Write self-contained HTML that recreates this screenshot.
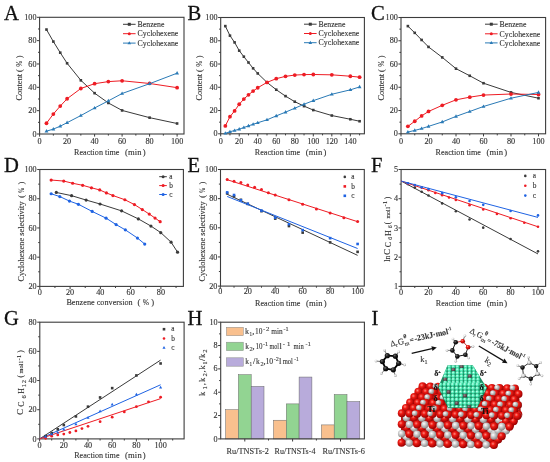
<!DOCTYPE html>
<html><head><meta charset="utf-8"><style>
html,body{margin:0;padding:0;background:#fff;overflow:hidden;width:550px;height:462px;}
svg{display:block;filter:blur(0.35px);}
text{font-family:"Liberation Serif",serif;fill:#333;stroke:#333;stroke-width:0.12px;}
</style></head><body>
<svg width="550" height="462" viewBox="0 0 550 462">
<rect width="550" height="462" fill="#fff"/>
<text x="3.9" y="19.9" font-size="20.6" style="stroke-width:0.3px;fill:#111;stroke:#111">A</text>
<text x="187.6" y="19.9" font-size="20.6" style="stroke-width:0.3px;fill:#111;stroke:#111">B</text>
<text x="371" y="19.9" font-size="20.6" style="stroke-width:0.3px;fill:#111;stroke:#111">C</text>
<text x="3.9" y="172.2" font-size="20.6" style="stroke-width:0.3px;fill:#111;stroke:#111">D</text>
<text x="187.6" y="172.2" font-size="20.6" style="stroke-width:0.3px;fill:#111;stroke:#111">E</text>
<text x="371" y="172.2" font-size="20.6" style="stroke-width:0.3px;fill:#111;stroke:#111">F</text>
<text x="3.9" y="325" font-size="20.6" style="stroke-width:0.3px;fill:#111;stroke:#111">G</text>
<text x="187.5" y="324.5" font-size="20.6" style="stroke-width:0.3px;fill:#111;stroke:#111">H</text>
<text x="371.5" y="324.7" font-size="20.6" style="stroke-width:0.3px;fill:#111;stroke:#111">I</text>
<path d="M39.6 134v2.6M67.1 134v2.6M94.6 134v2.6M122.1 134v2.6M149.6 134v2.6M177.1 134v2.6M53.35 134v1.6M80.85 134v1.6M108.35 134v1.6M135.85 134v1.6M163.35 134v1.6M39.6 134h-2.6M39.6 110.66h-2.6M39.6 87.32h-2.6M39.6 63.98h-2.6M39.6 40.64h-2.6M39.6 17.3h-2.6M39.6 122.33h-1.6M39.6 98.99h-1.6M39.6 75.65h-1.6M39.6 52.31h-1.6M39.6 28.97h-1.6" stroke="#3c3c3c" stroke-width="1" fill="none"/>
<rect x="39.6" y="17.3" width="144.4" height="116.7" fill="none" stroke="#3c3c3c" stroke-width="1.1"/>
<text x="39.6" y="143.9" text-anchor="middle" font-size="7.4" textLength="4.1" lengthAdjust="spacingAndGlyphs">0</text>
<text x="67.1" y="143.9" text-anchor="middle" font-size="7.4" textLength="8.2" lengthAdjust="spacingAndGlyphs">20</text>
<text x="94.6" y="143.9" text-anchor="middle" font-size="7.4" textLength="8.2" lengthAdjust="spacingAndGlyphs">40</text>
<text x="122.1" y="143.9" text-anchor="middle" font-size="7.4" textLength="8.2" lengthAdjust="spacingAndGlyphs">60</text>
<text x="149.6" y="143.9" text-anchor="middle" font-size="7.4" textLength="8.2" lengthAdjust="spacingAndGlyphs">80</text>
<text x="177.1" y="143.9" text-anchor="middle" font-size="7.4" textLength="12.3" lengthAdjust="spacingAndGlyphs">100</text>
<text x="36.5" y="136.6" text-anchor="end" font-size="7.4" textLength="4.1" lengthAdjust="spacingAndGlyphs">0</text>
<text x="36.5" y="113.26" text-anchor="end" font-size="7.4" textLength="8.2" lengthAdjust="spacingAndGlyphs">20</text>
<text x="36.5" y="89.92" text-anchor="end" font-size="7.4" textLength="8.2" lengthAdjust="spacingAndGlyphs">40</text>
<text x="36.5" y="66.58" text-anchor="end" font-size="7.4" textLength="8.2" lengthAdjust="spacingAndGlyphs">60</text>
<text x="36.5" y="43.24" text-anchor="end" font-size="7.4" textLength="8.2" lengthAdjust="spacingAndGlyphs">80</text>
<text x="36.5" y="19.9" text-anchor="end" font-size="7.4" textLength="12.3" lengthAdjust="spacingAndGlyphs">100</text>
<polyline points="46.48,29.55 53.35,41.57 60.23,52.66 67.1,63.28 80.85,80.32 94.6,93.16 108.35,102.96 122.1,110.43 149.6,117.66 177.1,123.5" fill="none" stroke="#3a3a3a" stroke-width="1.0" stroke-linejoin="round"/>
<rect x="45.18" y="28.25" width="2.6" height="2.6" fill="#3a3a3a"/>
<rect x="52.05" y="40.27" width="2.6" height="2.6" fill="#3a3a3a"/>
<rect x="58.93" y="51.36" width="2.6" height="2.6" fill="#3a3a3a"/>
<rect x="65.8" y="61.98" width="2.6" height="2.6" fill="#3a3a3a"/>
<rect x="79.55" y="79.02" width="2.6" height="2.6" fill="#3a3a3a"/>
<rect x="93.3" y="91.86" width="2.6" height="2.6" fill="#3a3a3a"/>
<rect x="107.05" y="101.66" width="2.6" height="2.6" fill="#3a3a3a"/>
<rect x="120.8" y="109.13" width="2.6" height="2.6" fill="#3a3a3a"/>
<rect x="148.3" y="116.36" width="2.6" height="2.6" fill="#3a3a3a"/>
<rect x="175.8" y="122.2" width="2.6" height="2.6" fill="#3a3a3a"/>
<polyline points="46.48,123.26 53.35,114.04 60.23,106.11 67.1,98.76 80.85,88.49 94.6,83.7 108.35,81.6 122.1,80.78 149.6,83.47 177.1,87.67" fill="none" stroke="#ee1c24" stroke-width="1.0" stroke-linejoin="round"/>
<circle cx="46.48" cy="123.26" r="1.9" fill="#ee1c24"/>
<circle cx="53.35" cy="114.04" r="1.9" fill="#ee1c24"/>
<circle cx="60.23" cy="106.11" r="1.9" fill="#ee1c24"/>
<circle cx="67.1" cy="98.76" r="1.9" fill="#ee1c24"/>
<circle cx="80.85" cy="88.49" r="1.9" fill="#ee1c24"/>
<circle cx="94.6" cy="83.7" r="1.9" fill="#ee1c24"/>
<circle cx="108.35" cy="81.6" r="1.9" fill="#ee1c24"/>
<circle cx="122.1" cy="80.78" r="1.9" fill="#ee1c24"/>
<circle cx="149.6" cy="83.47" r="1.9" fill="#ee1c24"/>
<circle cx="177.1" cy="87.67" r="1.9" fill="#ee1c24"/>
<polyline points="46.48,131.2 53.35,129.1 60.23,126.18 67.1,122.68 80.85,115.56 94.6,107.98 108.35,100.86 122.1,93.51 149.6,83.7 177.1,73.2" fill="none" stroke="#2a7ab6" stroke-width="1.0" stroke-linejoin="round"/>
<path d="M46.48 129.12L48.4 132.48L44.55 132.48Z" fill="#2a7ab6"/>
<path d="M53.35 127.02L55.27 130.38L51.43 130.38Z" fill="#2a7ab6"/>
<path d="M60.23 124.1L62.15 127.46L58.3 127.46Z" fill="#2a7ab6"/>
<path d="M67.1 120.6L69.02 123.96L65.18 123.96Z" fill="#2a7ab6"/>
<path d="M80.85 113.48L82.77 116.84L78.93 116.84Z" fill="#2a7ab6"/>
<path d="M94.6 105.9L96.52 109.26L92.68 109.26Z" fill="#2a7ab6"/>
<path d="M108.35 98.78L110.27 102.14L106.43 102.14Z" fill="#2a7ab6"/>
<path d="M122.1 91.43L124.02 94.79L120.18 94.79Z" fill="#2a7ab6"/>
<path d="M149.6 81.62L151.52 84.98L147.68 84.98Z" fill="#2a7ab6"/>
<path d="M177.1 71.12L179.02 74.48L175.18 74.48Z" fill="#2a7ab6"/>
<path d="M123 24.3h12.6" stroke="#3a3a3a" stroke-width="1"/>
<rect x="127.8" y="22.8" width="3" height="3" fill="#3a3a3a"/>
<text x="137.6" y="27" text-anchor="start" font-size="7.8">Benzene</text>
<path d="M123 33.7h12.6" stroke="#ee1c24" stroke-width="1"/>
<circle cx="129.3" cy="33.7" r="1.5" fill="#ee1c24"/>
<text x="137.6" y="36.4" text-anchor="start" font-size="7.8">Cyclohexene</text>
<path d="M123 43.1h12.6" stroke="#2a7ab6" stroke-width="1"/>
<path d="M129.3 41.15L131.1 44.3L127.5 44.3Z" fill="#2a7ab6"/>
<text x="137.6" y="45.8" text-anchor="start" font-size="7.8">Cyclohexane</text>
<g transform="translate(74.1 155.3)"><text x="0" y="0" font-size="8.6" textLength="45.3" lengthAdjust="spacingAndGlyphs">Reaction time</text><text x="52.3" y="0" text-anchor="middle" font-size="8.6">(</text><text x="53.8" y="0" font-size="8.6" textLength="13.7" lengthAdjust="spacing">min</text><text x="70" y="0" text-anchor="middle" font-size="8.6">)</text></g>
<g transform="translate(21.7 100.6) rotate(-90)"><text x="0" y="0" font-size="8.6" textLength="26.8" lengthAdjust="spacingAndGlyphs">Content</text><text x="30.1" y="0" text-anchor="middle" font-size="8.6">(</text><text x="33.9" y="0" font-size="8.6" textLength="6" lengthAdjust="spacingAndGlyphs">%</text><text x="43.8" y="0" text-anchor="middle" font-size="8.6">)</text></g>
<path d="M220.7 133.8v2.6M239.22 133.8v2.6M257.74 133.8v2.6M276.26 133.8v2.6M294.78 133.8v2.6M313.3 133.8v2.6M331.82 133.8v2.6M350.34 133.8v2.6M229.96 133.8v1.6M248.48 133.8v1.6M267 133.8v1.6M285.52 133.8v1.6M304.04 133.8v1.6M322.56 133.8v1.6M341.08 133.8v1.6M359.6 133.8v1.6M220.7 133.8h-2.6M220.7 110.54h-2.6M220.7 87.28h-2.6M220.7 64.02h-2.6M220.7 40.76h-2.6M220.7 17.5h-2.6M220.7 122.17h-1.6M220.7 98.91h-1.6M220.7 75.65h-1.6M220.7 52.39h-1.6M220.7 29.13h-1.6" stroke="#3c3c3c" stroke-width="1" fill="none"/>
<rect x="220.7" y="17.5" width="143.7" height="116.3" fill="none" stroke="#3c3c3c" stroke-width="1.1"/>
<text x="220.7" y="143.7" text-anchor="middle" font-size="7.4" textLength="4.1" lengthAdjust="spacingAndGlyphs">0</text>
<text x="239.22" y="143.7" text-anchor="middle" font-size="7.4" textLength="8.2" lengthAdjust="spacingAndGlyphs">20</text>
<text x="257.74" y="143.7" text-anchor="middle" font-size="7.4" textLength="8.2" lengthAdjust="spacingAndGlyphs">40</text>
<text x="276.26" y="143.7" text-anchor="middle" font-size="7.4" textLength="8.2" lengthAdjust="spacingAndGlyphs">60</text>
<text x="294.78" y="143.7" text-anchor="middle" font-size="7.4" textLength="8.2" lengthAdjust="spacingAndGlyphs">80</text>
<text x="313.3" y="143.7" text-anchor="middle" font-size="7.4" textLength="12.3" lengthAdjust="spacingAndGlyphs">100</text>
<text x="331.82" y="143.7" text-anchor="middle" font-size="7.4" textLength="12.3" lengthAdjust="spacingAndGlyphs">120</text>
<text x="350.34" y="143.7" text-anchor="middle" font-size="7.4" textLength="12.3" lengthAdjust="spacingAndGlyphs">140</text>
<text x="217.6" y="136.4" text-anchor="end" font-size="7.4" textLength="4.1" lengthAdjust="spacingAndGlyphs">0</text>
<text x="217.6" y="113.14" text-anchor="end" font-size="7.4" textLength="8.2" lengthAdjust="spacingAndGlyphs">20</text>
<text x="217.6" y="89.88" text-anchor="end" font-size="7.4" textLength="8.2" lengthAdjust="spacingAndGlyphs">40</text>
<text x="217.6" y="66.62" text-anchor="end" font-size="7.4" textLength="8.2" lengthAdjust="spacingAndGlyphs">60</text>
<text x="217.6" y="43.36" text-anchor="end" font-size="7.4" textLength="8.2" lengthAdjust="spacingAndGlyphs">80</text>
<text x="217.6" y="20.1" text-anchor="end" font-size="7.4" textLength="12.3" lengthAdjust="spacingAndGlyphs">100</text>
<polyline points="225.33,26.11 229.96,35.64 234.59,42.39 239.22,50.65 243.85,56.69 248.48,62.51 253.11,68.32 257.74,73.44 267,82.4 276.26,89.72 285.52,96.12 294.78,101.7 304.04,106.12 313.3,110.07 331.82,115.54 350.34,119.26 359.6,121.24" fill="none" stroke="#3a3a3a" stroke-width="1.0" stroke-linejoin="round"/>
<rect x="224.03" y="24.81" width="2.6" height="2.6" fill="#3a3a3a"/>
<rect x="228.66" y="34.34" width="2.6" height="2.6" fill="#3a3a3a"/>
<rect x="233.29" y="41.09" width="2.6" height="2.6" fill="#3a3a3a"/>
<rect x="237.92" y="49.35" width="2.6" height="2.6" fill="#3a3a3a"/>
<rect x="242.55" y="55.39" width="2.6" height="2.6" fill="#3a3a3a"/>
<rect x="247.18" y="61.21" width="2.6" height="2.6" fill="#3a3a3a"/>
<rect x="251.81" y="67.02" width="2.6" height="2.6" fill="#3a3a3a"/>
<rect x="256.44" y="72.14" width="2.6" height="2.6" fill="#3a3a3a"/>
<rect x="265.7" y="81.1" width="2.6" height="2.6" fill="#3a3a3a"/>
<rect x="274.96" y="88.42" width="2.6" height="2.6" fill="#3a3a3a"/>
<rect x="284.22" y="94.82" width="2.6" height="2.6" fill="#3a3a3a"/>
<rect x="293.48" y="100.4" width="2.6" height="2.6" fill="#3a3a3a"/>
<rect x="302.74" y="104.82" width="2.6" height="2.6" fill="#3a3a3a"/>
<rect x="312" y="108.77" width="2.6" height="2.6" fill="#3a3a3a"/>
<rect x="330.52" y="114.24" width="2.6" height="2.6" fill="#3a3a3a"/>
<rect x="349.04" y="117.96" width="2.6" height="2.6" fill="#3a3a3a"/>
<rect x="358.3" y="119.94" width="2.6" height="2.6" fill="#3a3a3a"/>
<polyline points="225.33,125.89 229.96,116.7 234.59,110.89 239.22,104.26 243.85,99.03 248.48,94.84 253.11,91.12 257.74,87.75 267,82.4 276.26,78.67 285.52,76.35 294.78,75.07 304.04,74.6 313.3,74.49 331.82,74.84 350.34,76.23 359.6,77.16" fill="none" stroke="#ee1c24" stroke-width="1.0" stroke-linejoin="round"/>
<circle cx="225.33" cy="125.89" r="1.9" fill="#ee1c24"/>
<circle cx="229.96" cy="116.7" r="1.9" fill="#ee1c24"/>
<circle cx="234.59" cy="110.89" r="1.9" fill="#ee1c24"/>
<circle cx="239.22" cy="104.26" r="1.9" fill="#ee1c24"/>
<circle cx="243.85" cy="99.03" r="1.9" fill="#ee1c24"/>
<circle cx="248.48" cy="94.84" r="1.9" fill="#ee1c24"/>
<circle cx="253.11" cy="91.12" r="1.9" fill="#ee1c24"/>
<circle cx="257.74" cy="87.75" r="1.9" fill="#ee1c24"/>
<circle cx="267" cy="82.4" r="1.9" fill="#ee1c24"/>
<circle cx="276.26" cy="78.67" r="1.9" fill="#ee1c24"/>
<circle cx="285.52" cy="76.35" r="1.9" fill="#ee1c24"/>
<circle cx="294.78" cy="75.07" r="1.9" fill="#ee1c24"/>
<circle cx="304.04" cy="74.6" r="1.9" fill="#ee1c24"/>
<circle cx="313.3" cy="74.49" r="1.9" fill="#ee1c24"/>
<circle cx="331.82" cy="74.84" r="1.9" fill="#ee1c24"/>
<circle cx="350.34" cy="76.23" r="1.9" fill="#ee1c24"/>
<circle cx="359.6" cy="77.16" r="1.9" fill="#ee1c24"/>
<polyline points="225.33,133.33 229.96,131.71 234.59,130.54 239.22,129.15 243.85,127.52 248.48,125.89 253.11,124.26 257.74,122.75 267,119.84 276.26,115.89 285.52,112.17 294.78,108.21 304.04,104.26 313.3,100.65 331.82,94.26 350.34,89.84 359.6,86.93" fill="none" stroke="#2a7ab6" stroke-width="1.0" stroke-linejoin="round"/>
<path d="M225.33 131.25L227.25 134.61L223.41 134.61Z" fill="#2a7ab6"/>
<path d="M229.96 129.63L231.88 132.99L228.04 132.99Z" fill="#2a7ab6"/>
<path d="M234.59 128.46L236.51 131.82L232.67 131.82Z" fill="#2a7ab6"/>
<path d="M239.22 127.07L241.14 130.43L237.3 130.43Z" fill="#2a7ab6"/>
<path d="M243.85 125.44L245.77 128.8L241.93 128.8Z" fill="#2a7ab6"/>
<path d="M248.48 123.81L250.4 127.17L246.56 127.17Z" fill="#2a7ab6"/>
<path d="M253.11 122.18L255.03 125.54L251.19 125.54Z" fill="#2a7ab6"/>
<path d="M257.74 120.67L259.66 124.03L255.82 124.03Z" fill="#2a7ab6"/>
<path d="M267 117.76L268.92 121.12L265.08 121.12Z" fill="#2a7ab6"/>
<path d="M276.26 113.81L278.18 117.17L274.34 117.17Z" fill="#2a7ab6"/>
<path d="M285.52 110.09L287.44 113.45L283.6 113.45Z" fill="#2a7ab6"/>
<path d="M294.78 106.13L296.7 109.49L292.86 109.49Z" fill="#2a7ab6"/>
<path d="M304.04 102.18L305.96 105.54L302.12 105.54Z" fill="#2a7ab6"/>
<path d="M313.3 98.57L315.22 101.93L311.38 101.93Z" fill="#2a7ab6"/>
<path d="M331.82 92.18L333.74 95.54L329.9 95.54Z" fill="#2a7ab6"/>
<path d="M350.34 87.76L352.26 91.12L348.42 91.12Z" fill="#2a7ab6"/>
<path d="M359.6 84.85L361.52 88.21L357.68 88.21Z" fill="#2a7ab6"/>
<path d="M304 24.2h12.6" stroke="#3a3a3a" stroke-width="1"/>
<rect x="308.8" y="22.7" width="3" height="3" fill="#3a3a3a"/>
<text x="318.6" y="26.9" text-anchor="start" font-size="7.8">Benzene</text>
<path d="M304 33.5h12.6" stroke="#ee1c24" stroke-width="1"/>
<circle cx="310.3" cy="33.5" r="1.5" fill="#ee1c24"/>
<text x="318.6" y="36.2" text-anchor="start" font-size="7.8">Cyclohexene</text>
<path d="M304 42.7h12.6" stroke="#2a7ab6" stroke-width="1"/>
<path d="M310.3 40.75L312.1 43.9L308.5 43.9Z" fill="#2a7ab6"/>
<text x="318.6" y="45.4" text-anchor="start" font-size="7.8">Cyclohexane</text>
<g transform="translate(254.85 155.3)"><text x="0" y="0" font-size="8.6" textLength="45.3" lengthAdjust="spacingAndGlyphs">Reaction time</text><text x="52.3" y="0" text-anchor="middle" font-size="8.6">(</text><text x="53.8" y="0" font-size="8.6" textLength="13.7" lengthAdjust="spacing">min</text><text x="70" y="0" text-anchor="middle" font-size="8.6">)</text></g>
<g transform="translate(201.5 100.6) rotate(-90)"><text x="0" y="0" font-size="8.6" textLength="26.8" lengthAdjust="spacingAndGlyphs">Content</text><text x="30.1" y="0" text-anchor="middle" font-size="8.6">(</text><text x="33.9" y="0" font-size="8.6" textLength="6" lengthAdjust="spacingAndGlyphs">%</text><text x="43.8" y="0" text-anchor="middle" font-size="8.6">)</text></g>
<path d="M401 133.8v2.6M428.5 133.8v2.6M456 133.8v2.6M483.5 133.8v2.6M511 133.8v2.6M538.5 133.8v2.6M414.75 133.8v1.6M442.25 133.8v1.6M469.75 133.8v1.6M497.25 133.8v1.6M524.75 133.8v1.6M401 133.8h-2.6M401 110.54h-2.6M401 87.28h-2.6M401 64.02h-2.6M401 40.76h-2.6M401 17.5h-2.6M401 122.17h-1.6M401 98.91h-1.6M401 75.65h-1.6M401 52.39h-1.6M401 29.13h-1.6" stroke="#3c3c3c" stroke-width="1" fill="none"/>
<rect x="401" y="17.5" width="144.6" height="116.3" fill="none" stroke="#3c3c3c" stroke-width="1.1"/>
<text x="401" y="143.7" text-anchor="middle" font-size="7.4" textLength="4.1" lengthAdjust="spacingAndGlyphs">0</text>
<text x="428.5" y="143.7" text-anchor="middle" font-size="7.4" textLength="8.2" lengthAdjust="spacingAndGlyphs">20</text>
<text x="456" y="143.7" text-anchor="middle" font-size="7.4" textLength="8.2" lengthAdjust="spacingAndGlyphs">40</text>
<text x="483.5" y="143.7" text-anchor="middle" font-size="7.4" textLength="8.2" lengthAdjust="spacingAndGlyphs">60</text>
<text x="511" y="143.7" text-anchor="middle" font-size="7.4" textLength="8.2" lengthAdjust="spacingAndGlyphs">80</text>
<text x="538.5" y="143.7" text-anchor="middle" font-size="7.4" textLength="12.3" lengthAdjust="spacingAndGlyphs">100</text>
<text x="397.9" y="136.4" text-anchor="end" font-size="7.4" textLength="4.1" lengthAdjust="spacingAndGlyphs">0</text>
<text x="397.9" y="113.14" text-anchor="end" font-size="7.4" textLength="8.2" lengthAdjust="spacingAndGlyphs">20</text>
<text x="397.9" y="89.88" text-anchor="end" font-size="7.4" textLength="8.2" lengthAdjust="spacingAndGlyphs">40</text>
<text x="397.9" y="66.62" text-anchor="end" font-size="7.4" textLength="8.2" lengthAdjust="spacingAndGlyphs">60</text>
<text x="397.9" y="43.36" text-anchor="end" font-size="7.4" textLength="8.2" lengthAdjust="spacingAndGlyphs">80</text>
<text x="397.9" y="20.1" text-anchor="end" font-size="7.4" textLength="12.3" lengthAdjust="spacingAndGlyphs">100</text>
<polyline points="407.88,26.11 414.75,32.85 421.62,39.95 428.5,46.92 442.25,57.39 456,68.67 469.75,75.77 483.5,83.21 511,92.4 538.5,98.21" fill="none" stroke="#3a3a3a" stroke-width="1.0" stroke-linejoin="round"/>
<rect x="406.57" y="24.81" width="2.6" height="2.6" fill="#3a3a3a"/>
<rect x="413.45" y="31.55" width="2.6" height="2.6" fill="#3a3a3a"/>
<rect x="420.32" y="38.65" width="2.6" height="2.6" fill="#3a3a3a"/>
<rect x="427.2" y="45.62" width="2.6" height="2.6" fill="#3a3a3a"/>
<rect x="440.95" y="56.09" width="2.6" height="2.6" fill="#3a3a3a"/>
<rect x="454.7" y="67.37" width="2.6" height="2.6" fill="#3a3a3a"/>
<rect x="468.45" y="74.47" width="2.6" height="2.6" fill="#3a3a3a"/>
<rect x="482.2" y="81.91" width="2.6" height="2.6" fill="#3a3a3a"/>
<rect x="509.7" y="91.1" width="2.6" height="2.6" fill="#3a3a3a"/>
<rect x="537.2" y="96.91" width="2.6" height="2.6" fill="#3a3a3a"/>
<polyline points="407.88,126.36 414.75,121.24 421.62,115.89 428.5,111.47 442.25,105.31 456,99.84 469.75,97.17 483.5,95.07 511,94.03 538.5,94.49" fill="none" stroke="#ee1c24" stroke-width="1.0" stroke-linejoin="round"/>
<circle cx="407.88" cy="126.36" r="1.9" fill="#ee1c24"/>
<circle cx="414.75" cy="121.24" r="1.9" fill="#ee1c24"/>
<circle cx="421.62" cy="115.89" r="1.9" fill="#ee1c24"/>
<circle cx="428.5" cy="111.47" r="1.9" fill="#ee1c24"/>
<circle cx="442.25" cy="105.31" r="1.9" fill="#ee1c24"/>
<circle cx="456" cy="99.84" r="1.9" fill="#ee1c24"/>
<circle cx="469.75" cy="97.17" r="1.9" fill="#ee1c24"/>
<circle cx="483.5" cy="95.07" r="1.9" fill="#ee1c24"/>
<circle cx="511" cy="94.03" r="1.9" fill="#ee1c24"/>
<circle cx="538.5" cy="94.49" r="1.9" fill="#ee1c24"/>
<polyline points="407.88,132.06 414.75,130.43 421.62,128.57 428.5,126.36 442.25,121.94 456,116.36 469.75,111.47 483.5,106.47 511,98.21 538.5,92.4" fill="none" stroke="#2a7ab6" stroke-width="1.0" stroke-linejoin="round"/>
<path d="M407.88 129.98L409.8 133.34L405.95 133.34Z" fill="#2a7ab6"/>
<path d="M414.75 128.35L416.67 131.71L412.83 131.71Z" fill="#2a7ab6"/>
<path d="M421.62 126.49L423.55 129.85L419.7 129.85Z" fill="#2a7ab6"/>
<path d="M428.5 124.28L430.42 127.64L426.58 127.64Z" fill="#2a7ab6"/>
<path d="M442.25 119.86L444.17 123.22L440.33 123.22Z" fill="#2a7ab6"/>
<path d="M456 114.28L457.92 117.64L454.08 117.64Z" fill="#2a7ab6"/>
<path d="M469.75 109.39L471.67 112.75L467.83 112.75Z" fill="#2a7ab6"/>
<path d="M483.5 104.39L485.42 107.75L481.58 107.75Z" fill="#2a7ab6"/>
<path d="M511 96.13L512.92 99.49L509.08 99.49Z" fill="#2a7ab6"/>
<path d="M538.5 90.32L540.42 93.68L536.58 93.68Z" fill="#2a7ab6"/>
<path d="M485 24.2h12.6" stroke="#3a3a3a" stroke-width="1"/>
<rect x="489.8" y="22.7" width="3" height="3" fill="#3a3a3a"/>
<text x="499.6" y="26.9" text-anchor="start" font-size="7.8">Benzene</text>
<path d="M485 33.8h12.6" stroke="#ee1c24" stroke-width="1"/>
<circle cx="491.3" cy="33.8" r="1.5" fill="#ee1c24"/>
<text x="499.6" y="36.5" text-anchor="start" font-size="7.8">Cyclohexene</text>
<path d="M485 42.9h12.6" stroke="#2a7ab6" stroke-width="1"/>
<path d="M491.3 40.95L493.1 44.1L489.5 44.1Z" fill="#2a7ab6"/>
<text x="499.6" y="45.6" text-anchor="start" font-size="7.8">Cyclohexane</text>
<g transform="translate(435.6 155.3)"><text x="0" y="0" font-size="8.6" textLength="45.3" lengthAdjust="spacingAndGlyphs">Reaction time</text><text x="52.3" y="0" text-anchor="middle" font-size="8.6">(</text><text x="53.8" y="0" font-size="8.6" textLength="13.7" lengthAdjust="spacing">min</text><text x="70" y="0" text-anchor="middle" font-size="8.6">)</text></g>
<g transform="translate(383.7 100.6) rotate(-90)"><text x="0" y="0" font-size="8.6" textLength="26.8" lengthAdjust="spacingAndGlyphs">Content</text><text x="30.1" y="0" text-anchor="middle" font-size="8.6">(</text><text x="33.9" y="0" font-size="8.6" textLength="6" lengthAdjust="spacingAndGlyphs">%</text><text x="43.8" y="0" text-anchor="middle" font-size="8.6">)</text></g>
<path d="M39.8 286.4v2.6M70.08 286.4v2.6M100.36 286.4v2.6M130.64 286.4v2.6M160.92 286.4v2.6M54.94 286.4v1.6M85.22 286.4v1.6M115.5 286.4v1.6M145.78 286.4v1.6M176.06 286.4v1.6M39.8 286.4h-2.6M39.8 257.18h-2.6M39.8 227.96h-2.6M39.8 198.74h-2.6M39.8 169.52h-2.6M39.8 271.79h-1.6M39.8 242.57h-1.6M39.8 213.35h-1.6M39.8 184.13h-1.6" stroke="#3c3c3c" stroke-width="1" fill="none"/>
<rect x="39.8" y="169.5" width="143.6" height="116.9" fill="none" stroke="#3c3c3c" stroke-width="1.1"/>
<text x="39.8" y="294.7" text-anchor="middle" font-size="7.4" textLength="4.1" lengthAdjust="spacingAndGlyphs">0</text>
<text x="70.08" y="294.7" text-anchor="middle" font-size="7.4" textLength="8.2" lengthAdjust="spacingAndGlyphs">20</text>
<text x="100.36" y="294.7" text-anchor="middle" font-size="7.4" textLength="8.2" lengthAdjust="spacingAndGlyphs">40</text>
<text x="130.64" y="294.7" text-anchor="middle" font-size="7.4" textLength="8.2" lengthAdjust="spacingAndGlyphs">60</text>
<text x="160.92" y="294.7" text-anchor="middle" font-size="7.4" textLength="8.2" lengthAdjust="spacingAndGlyphs">80</text>
<text x="36.7" y="289" text-anchor="end" font-size="7.4" textLength="8.2" lengthAdjust="spacingAndGlyphs">20</text>
<text x="36.7" y="259.78" text-anchor="end" font-size="7.4" textLength="8.2" lengthAdjust="spacingAndGlyphs">40</text>
<text x="36.7" y="230.56" text-anchor="end" font-size="7.4" textLength="8.2" lengthAdjust="spacingAndGlyphs">60</text>
<text x="36.7" y="201.34" text-anchor="end" font-size="7.4" textLength="8.2" lengthAdjust="spacingAndGlyphs">80</text>
<text x="36.7" y="172.12" text-anchor="end" font-size="7.4" textLength="12.3" lengthAdjust="spacingAndGlyphs">100</text>
<polyline points="56.3,192.46 71.59,195.67 86.13,200.05 100.06,204 121.56,210.87 138.36,218.9 150.93,226.06 160.77,232.64 171.06,242.13 177.57,252.21" fill="none" stroke="#3a3a3a" stroke-width="1.0" stroke-linejoin="round"/>
<circle cx="56.3" cy="192.46" r="1.6" fill="#3a3a3a"/>
<circle cx="71.59" cy="195.67" r="1.6" fill="#3a3a3a"/>
<circle cx="86.13" cy="200.05" r="1.6" fill="#3a3a3a"/>
<circle cx="100.06" cy="204" r="1.6" fill="#3a3a3a"/>
<circle cx="121.56" cy="210.87" r="1.6" fill="#3a3a3a"/>
<circle cx="138.36" cy="218.9" r="1.6" fill="#3a3a3a"/>
<circle cx="150.93" cy="226.06" r="1.6" fill="#3a3a3a"/>
<circle cx="160.77" cy="232.64" r="1.6" fill="#3a3a3a"/>
<circle cx="171.06" cy="242.13" r="1.6" fill="#3a3a3a"/>
<circle cx="177.57" cy="252.21" r="1.6" fill="#3a3a3a"/>
<polyline points="51.16,180.04 63.72,181.06 72.65,183.25 82.65,185.3 91.43,187.78 99.75,189.97 106.42,192.9 112.93,195.53 124.89,199.76 134.43,204.58 142.3,209.55 149.26,214.08 155.02,218.03 160.16,221.68" fill="none" stroke="#ee1c24" stroke-width="1.0" stroke-linejoin="round"/>
<circle cx="51.16" cy="180.04" r="1.6" fill="#ee1c24"/>
<circle cx="63.72" cy="181.06" r="1.6" fill="#ee1c24"/>
<circle cx="72.65" cy="183.25" r="1.6" fill="#ee1c24"/>
<circle cx="82.65" cy="185.3" r="1.6" fill="#ee1c24"/>
<circle cx="91.43" cy="187.78" r="1.6" fill="#ee1c24"/>
<circle cx="99.75" cy="189.97" r="1.6" fill="#ee1c24"/>
<circle cx="106.42" cy="192.9" r="1.6" fill="#ee1c24"/>
<circle cx="112.93" cy="195.53" r="1.6" fill="#ee1c24"/>
<circle cx="124.89" cy="199.76" r="1.6" fill="#ee1c24"/>
<circle cx="134.43" cy="204.58" r="1.6" fill="#ee1c24"/>
<circle cx="142.3" cy="209.55" r="1.6" fill="#ee1c24"/>
<circle cx="149.26" cy="214.08" r="1.6" fill="#ee1c24"/>
<circle cx="155.02" cy="218.03" r="1.6" fill="#ee1c24"/>
<circle cx="160.16" cy="221.68" r="1.6" fill="#ee1c24"/>
<polyline points="51.16,193.77 59.78,196.55 69.47,201.08 78.41,204.29 92.18,211.45 106.11,218.17 116.11,224.6 125.34,229.86 137.45,238.04 144.72,244.03" fill="none" stroke="#1f63e3" stroke-width="1.0" stroke-linejoin="round"/>
<circle cx="51.16" cy="193.77" r="1.6" fill="#1f63e3"/>
<circle cx="59.78" cy="196.55" r="1.6" fill="#1f63e3"/>
<circle cx="69.47" cy="201.08" r="1.6" fill="#1f63e3"/>
<circle cx="78.41" cy="204.29" r="1.6" fill="#1f63e3"/>
<circle cx="92.18" cy="211.45" r="1.6" fill="#1f63e3"/>
<circle cx="106.11" cy="218.17" r="1.6" fill="#1f63e3"/>
<circle cx="116.11" cy="224.6" r="1.6" fill="#1f63e3"/>
<circle cx="125.34" cy="229.86" r="1.6" fill="#1f63e3"/>
<circle cx="137.45" cy="238.04" r="1.6" fill="#1f63e3"/>
<circle cx="144.72" cy="244.03" r="1.6" fill="#1f63e3"/>
<path d="M159.2 176.7h7.6" stroke="#3a3a3a" stroke-width="1"/>
<circle cx="163.1" cy="176.7" r="1.5" fill="#3a3a3a"/>
<text x="169.3" y="178.9" text-anchor="start" font-size="7.3">a</text>
<path d="M159.2 185.6h7.6" stroke="#ee1c24" stroke-width="1"/>
<circle cx="163.1" cy="185.6" r="1.5" fill="#ee1c24"/>
<text x="169.3" y="187.8" text-anchor="start" font-size="7.3">b</text>
<path d="M159.2 194.5h7.6" stroke="#1f63e3" stroke-width="1"/>
<circle cx="163.1" cy="194.5" r="1.5" fill="#1f63e3"/>
<text x="169.3" y="196.7" text-anchor="start" font-size="7.3">c</text>
<g transform="translate(66.4 305.2)"><text x="0" y="0" font-size="8.6" textLength="66.3" lengthAdjust="spacingAndGlyphs">Benzene conversion</text><text x="72.6" y="0" text-anchor="middle" font-size="8.6">(</text><text x="76.3" y="0" font-size="8.6" textLength="6.3" lengthAdjust="spacingAndGlyphs">%</text><text x="86.3" y="0" text-anchor="middle" font-size="8.6">)</text></g>
<g transform="translate(24.3 282) rotate(-90)"><text x="0.5" y="0" font-size="8.6" textLength="80.1" lengthAdjust="spacingAndGlyphs">Cyclohexene selectivity</text><text x="85.8" y="0" text-anchor="middle" font-size="8.6">(</text><text x="89.3" y="0" font-size="8.6" textLength="4.9" lengthAdjust="spacingAndGlyphs">%</text><text x="98.9" y="0" text-anchor="middle" font-size="8.6">)</text></g>
<path d="M220.3 286.1v2.6M247.76 286.1v2.6M275.22 286.1v2.6M302.68 286.1v2.6M330.14 286.1v2.6M357.6 286.1v2.6M234.03 286.1v1.6M261.49 286.1v1.6M288.95 286.1v1.6M316.41 286.1v1.6M343.87 286.1v1.6M220.5 286.1h-2.6M220.5 256.95h-2.6M220.5 227.8h-2.6M220.5 198.65h-2.6M220.5 169.5h-2.6M220.5 271.53h-1.6M220.5 242.38h-1.6M220.5 213.23h-1.6M220.5 184.08h-1.6" stroke="#3c3c3c" stroke-width="1" fill="none"/>
<rect x="220.5" y="169.5" width="143.8" height="116.6" fill="none" stroke="#3c3c3c" stroke-width="1.1"/>
<text x="220.3" y="294.4" text-anchor="middle" font-size="7.4" textLength="4.1" lengthAdjust="spacingAndGlyphs">0</text>
<text x="247.76" y="294.4" text-anchor="middle" font-size="7.4" textLength="8.2" lengthAdjust="spacingAndGlyphs">20</text>
<text x="275.22" y="294.4" text-anchor="middle" font-size="7.4" textLength="8.2" lengthAdjust="spacingAndGlyphs">40</text>
<text x="302.68" y="294.4" text-anchor="middle" font-size="7.4" textLength="8.2" lengthAdjust="spacingAndGlyphs">60</text>
<text x="330.14" y="294.4" text-anchor="middle" font-size="7.4" textLength="8.2" lengthAdjust="spacingAndGlyphs">80</text>
<text x="357.6" y="294.4" text-anchor="middle" font-size="7.4" textLength="12.3" lengthAdjust="spacingAndGlyphs">100</text>
<text x="217.4" y="288.7" text-anchor="end" font-size="7.4" textLength="8.2" lengthAdjust="spacingAndGlyphs">20</text>
<text x="217.4" y="259.55" text-anchor="end" font-size="7.4" textLength="8.2" lengthAdjust="spacingAndGlyphs">40</text>
<text x="217.4" y="230.4" text-anchor="end" font-size="7.4" textLength="8.2" lengthAdjust="spacingAndGlyphs">60</text>
<text x="217.4" y="201.25" text-anchor="end" font-size="7.4" textLength="8.2" lengthAdjust="spacingAndGlyphs">80</text>
<text x="217.4" y="172.1" text-anchor="end" font-size="7.4" textLength="12.3" lengthAdjust="spacingAndGlyphs">100</text>
<line x1="227.17" y1="179.7" x2="357.6" y2="221.68" stroke="#ee1c24" stroke-width="1"/>
<line x1="227.17" y1="194.28" x2="357.6" y2="255.35" stroke="#3a3a3a" stroke-width="1"/>
<line x1="227.17" y1="196.46" x2="357.6" y2="248.5" stroke="#1f63e3" stroke-width="1"/>
<circle cx="227.17" cy="179.56" r="1.5" fill="#ee1c24"/>
<circle cx="234.03" cy="181.16" r="1.5" fill="#ee1c24"/>
<circle cx="240.9" cy="182.62" r="1.5" fill="#ee1c24"/>
<circle cx="247.76" cy="184.95" r="1.5" fill="#ee1c24"/>
<circle cx="254.62" cy="187.14" r="1.5" fill="#ee1c24"/>
<circle cx="261.49" cy="189.47" r="1.5" fill="#ee1c24"/>
<circle cx="268.36" cy="192.67" r="1.5" fill="#ee1c24"/>
<circle cx="275.22" cy="195.01" r="1.5" fill="#ee1c24"/>
<circle cx="288.95" cy="199.82" r="1.5" fill="#ee1c24"/>
<circle cx="302.68" cy="204.33" r="1.5" fill="#ee1c24"/>
<circle cx="316.41" cy="209" r="1.5" fill="#ee1c24"/>
<circle cx="330.14" cy="212.93" r="1.5" fill="#ee1c24"/>
<circle cx="343.87" cy="217.74" r="1.5" fill="#ee1c24"/>
<circle cx="357.6" cy="221.39" r="1.5" fill="#ee1c24"/>
<rect x="225.87" y="192.1" width="2.6" height="2.6" fill="#3a3a3a"/>
<rect x="232.73" y="195.02" width="2.6" height="2.6" fill="#3a3a3a"/>
<rect x="239.59" y="198.52" width="2.6" height="2.6" fill="#3a3a3a"/>
<rect x="246.46" y="202.6" width="2.6" height="2.6" fill="#3a3a3a"/>
<rect x="260.19" y="209.88" width="2.6" height="2.6" fill="#3a3a3a"/>
<rect x="273.92" y="217.32" width="2.6" height="2.6" fill="#3a3a3a"/>
<rect x="287.65" y="224.75" width="2.6" height="2.6" fill="#3a3a3a"/>
<rect x="301.38" y="231.31" width="2.6" height="2.6" fill="#3a3a3a"/>
<rect x="328.84" y="241.08" width="2.6" height="2.6" fill="#3a3a3a"/>
<rect x="356.3" y="250.55" width="2.6" height="2.6" fill="#3a3a3a"/>
<rect x="225.87" y="191.08" width="2.6" height="2.6" fill="#1f63e3"/>
<rect x="232.73" y="193.71" width="2.6" height="2.6" fill="#1f63e3"/>
<rect x="239.59" y="198.95" width="2.6" height="2.6" fill="#1f63e3"/>
<rect x="246.46" y="202.45" width="2.6" height="2.6" fill="#1f63e3"/>
<rect x="260.19" y="209.3" width="2.6" height="2.6" fill="#1f63e3"/>
<rect x="273.92" y="216.3" width="2.6" height="2.6" fill="#1f63e3"/>
<rect x="287.65" y="222.86" width="2.6" height="2.6" fill="#1f63e3"/>
<rect x="301.38" y="228.83" width="2.6" height="2.6" fill="#1f63e3"/>
<rect x="328.84" y="236.85" width="2.6" height="2.6" fill="#1f63e3"/>
<rect x="356.3" y="242.68" width="2.6" height="2.6" fill="#1f63e3"/>
<circle cx="344.8" cy="176.9" r="1.3" fill="#3a3a3a"/>
<text x="351.2" y="179.1" text-anchor="start" font-size="7.3">a</text>
<rect x="343.5" y="185.1" width="2.6" height="2.6" fill="#ee1c24"/>
<text x="351.2" y="188.6" text-anchor="start" font-size="7.3">b</text>
<rect x="343.5" y="194.5" width="2.6" height="2.6" fill="#1f63e3"/>
<text x="351.2" y="198" text-anchor="start" font-size="7.3">c</text>
<g transform="translate(255.1 305.6)"><text x="0" y="0" font-size="8.6" textLength="45.3" lengthAdjust="spacingAndGlyphs">Reaction time</text><text x="52.3" y="0" text-anchor="middle" font-size="8.6">(</text><text x="53.8" y="0" font-size="8.6" textLength="13.7" lengthAdjust="spacing">min</text><text x="70" y="0" text-anchor="middle" font-size="8.6">)</text></g>
<g transform="translate(204.9 282) rotate(-90)"><text x="0.5" y="0" font-size="8.6" textLength="80.1" lengthAdjust="spacingAndGlyphs">Cyclohexene selectivity</text><text x="85.8" y="0" text-anchor="middle" font-size="8.6">(</text><text x="89.3" y="0" font-size="8.6" textLength="4.9" lengthAdjust="spacingAndGlyphs">%</text><text x="98.9" y="0" text-anchor="middle" font-size="8.6">)</text></g>
<path d="M401.1 286.4v2.6M428.48 286.4v2.6M455.86 286.4v2.6M483.24 286.4v2.6M510.62 286.4v2.6M538 286.4v2.6M414.79 286.4v1.6M442.17 286.4v1.6M469.55 286.4v1.6M496.93 286.4v1.6M524.31 286.4v1.6M401.1 286.4h-2.6M401.1 257.17h-2.6M401.1 227.95h-2.6M401.1 198.72h-2.6M401.1 169.5h-2.6M401.1 271.79h-1.6M401.1 242.56h-1.6M401.1 213.34h-1.6M401.1 184.11h-1.6" stroke="#3c3c3c" stroke-width="1" fill="none"/>
<rect x="401.1" y="169.5" width="144.5" height="116.9" fill="none" stroke="#3c3c3c" stroke-width="1.1"/>
<text x="401.1" y="294.7" text-anchor="middle" font-size="7.4" textLength="4.1" lengthAdjust="spacingAndGlyphs">0</text>
<text x="428.48" y="294.7" text-anchor="middle" font-size="7.4" textLength="8.2" lengthAdjust="spacingAndGlyphs">20</text>
<text x="455.86" y="294.7" text-anchor="middle" font-size="7.4" textLength="8.2" lengthAdjust="spacingAndGlyphs">40</text>
<text x="483.24" y="294.7" text-anchor="middle" font-size="7.4" textLength="8.2" lengthAdjust="spacingAndGlyphs">60</text>
<text x="510.62" y="294.7" text-anchor="middle" font-size="7.4" textLength="8.2" lengthAdjust="spacingAndGlyphs">80</text>
<text x="538" y="294.7" text-anchor="middle" font-size="7.4" textLength="12.3" lengthAdjust="spacingAndGlyphs">100</text>
<text x="398" y="289" text-anchor="end" font-size="7.4" textLength="4.1" lengthAdjust="spacingAndGlyphs">1</text>
<text x="398" y="259.77" text-anchor="end" font-size="7.4" textLength="4.1" lengthAdjust="spacingAndGlyphs">2</text>
<text x="398" y="230.55" text-anchor="end" font-size="7.4" textLength="4.1" lengthAdjust="spacingAndGlyphs">3</text>
<text x="398" y="201.32" text-anchor="end" font-size="7.4" textLength="4.1" lengthAdjust="spacingAndGlyphs">4</text>
<text x="398" y="172.1" text-anchor="end" font-size="7.4" textLength="4.1" lengthAdjust="spacingAndGlyphs">5</text>
<line x1="401.1" y1="181.04" x2="538" y2="253.96" stroke="#3a3a3a" stroke-width="1"/>
<line x1="401.1" y1="181.04" x2="538" y2="226.78" stroke="#ee1c24" stroke-width="1"/>
<line x1="401.1" y1="181.04" x2="538" y2="217.43" stroke="#1f63e3" stroke-width="1"/>
<circle cx="407.95" cy="184.11" r="1.3" fill="#3a3a3a"/>
<circle cx="414.79" cy="187.62" r="1.3" fill="#3a3a3a"/>
<circle cx="421.64" cy="191.71" r="1.3" fill="#3a3a3a"/>
<circle cx="428.48" cy="195.51" r="1.3" fill="#3a3a3a"/>
<circle cx="442.17" cy="203.4" r="1.3" fill="#3a3a3a"/>
<circle cx="455.86" cy="211.29" r="1.3" fill="#3a3a3a"/>
<circle cx="469.55" cy="219.47" r="1.3" fill="#3a3a3a"/>
<circle cx="483.24" cy="227.66" r="1.3" fill="#3a3a3a"/>
<circle cx="510.62" cy="239.06" r="1.3" fill="#3a3a3a"/>
<circle cx="538" cy="251.33" r="1.3" fill="#3a3a3a"/>
<circle cx="407.95" cy="183.82" r="1.3" fill="#ee1c24"/>
<circle cx="414.79" cy="185.28" r="1.3" fill="#ee1c24"/>
<circle cx="421.64" cy="187.62" r="1.3" fill="#ee1c24"/>
<circle cx="428.48" cy="190.25" r="1.3" fill="#ee1c24"/>
<circle cx="435.33" cy="192.88" r="1.3" fill="#ee1c24"/>
<circle cx="442.17" cy="195.22" r="1.3" fill="#ee1c24"/>
<circle cx="449.02" cy="197.56" r="1.3" fill="#ee1c24"/>
<circle cx="455.86" cy="199.89" r="1.3" fill="#ee1c24"/>
<circle cx="469.55" cy="205.15" r="1.3" fill="#ee1c24"/>
<circle cx="483.24" cy="209.54" r="1.3" fill="#ee1c24"/>
<circle cx="496.93" cy="213.92" r="1.3" fill="#ee1c24"/>
<circle cx="510.62" cy="218.31" r="1.3" fill="#ee1c24"/>
<circle cx="524.31" cy="222.69" r="1.3" fill="#ee1c24"/>
<circle cx="538" cy="226.78" r="1.3" fill="#ee1c24"/>
<circle cx="407.95" cy="183.24" r="1.3" fill="#1f63e3"/>
<circle cx="414.79" cy="184.99" r="1.3" fill="#1f63e3"/>
<circle cx="421.64" cy="187.33" r="1.3" fill="#1f63e3"/>
<circle cx="428.48" cy="189.08" r="1.3" fill="#1f63e3"/>
<circle cx="442.17" cy="193.17" r="1.3" fill="#1f63e3"/>
<circle cx="455.86" cy="197.26" r="1.3" fill="#1f63e3"/>
<circle cx="469.55" cy="201.06" r="1.3" fill="#1f63e3"/>
<circle cx="483.24" cy="204.86" r="1.3" fill="#1f63e3"/>
<circle cx="510.62" cy="211" r="1.3" fill="#1f63e3"/>
<circle cx="538" cy="215.38" r="1.3" fill="#1f63e3"/>
<circle cx="525.3" cy="175.9" r="1.3" fill="#3a3a3a"/>
<text x="532.8" y="178.1" text-anchor="start" font-size="7.3">a</text>
<circle cx="525.3" cy="185.8" r="1.3" fill="#ee1c24"/>
<text x="532.8" y="188" text-anchor="start" font-size="7.3">b</text>
<circle cx="525.3" cy="195.6" r="1.3" fill="#1f63e3"/>
<text x="532.8" y="197.8" text-anchor="start" font-size="7.3">c</text>
<g transform="translate(435.8 305.6)"><text x="0" y="0" font-size="8.6" textLength="45.3" lengthAdjust="spacingAndGlyphs">Reaction time</text><text x="52.3" y="0" text-anchor="middle" font-size="8.6">(</text><text x="53.8" y="0" font-size="8.6" textLength="13.7" lengthAdjust="spacing">min</text><text x="70" y="0" text-anchor="middle" font-size="8.6">)</text></g>
<g transform="translate(390.2 261.7) rotate(-90)"><text x="0" y="0" font-size="8.6" textLength="6.1" lengthAdjust="spacingAndGlyphs">ln</text><text x="6.9" y="0" font-size="8.6" textLength="6.8" lengthAdjust="spacing">C</text><text x="14.4" y="0.4" font-size="8" textLength="6.8" lengthAdjust="spacing">C</text><text x="22" y="2.2" font-size="6.6" textLength="3" lengthAdjust="spacingAndGlyphs">6</text><text x="25.8" y="0.4" font-size="8" textLength="6.9" lengthAdjust="spacing">H</text><text x="33.4" y="2.2" font-size="6.6" textLength="3" lengthAdjust="spacingAndGlyphs">6</text><text x="38.7" y="0" text-anchor="middle" font-size="7.5">(</text><text x="43.2" y="0" font-size="6.2" textLength="9.1" lengthAdjust="spacingAndGlyphs">mol</text><text x="53.8" y="0" text-anchor="middle" font-size="6.6">l</text><text x="55.3" y="-2.8" font-size="6.2" textLength="5.4" lengthAdjust="spacing">-1</text><text x="63.7" y="0" text-anchor="middle" font-size="7.5">)</text></g>
<path d="M39.6 438.9v2.6M63.8 438.9v2.6M88 438.9v2.6M112.2 438.9v2.6M136.4 438.9v2.6M160.6 438.9v2.6M51.7 438.9v1.6M75.9 438.9v1.6M100.1 438.9v1.6M124.3 438.9v1.6M148.5 438.9v1.6M172.7 438.9v1.6M39.8 438.9h-2.6M39.8 409.72h-2.6M39.8 380.54h-2.6M39.8 351.36h-2.6M39.8 322.18h-2.6M39.8 424.31h-1.6M39.8 395.13h-1.6M39.8 365.95h-1.6M39.8 336.77h-1.6" stroke="#3c3c3c" stroke-width="1" fill="none"/>
<rect x="39.8" y="322.2" width="144.3" height="116.7" fill="none" stroke="#3c3c3c" stroke-width="1.1"/>
<text x="39.6" y="447.8" text-anchor="middle" font-size="7.4" textLength="4.1" lengthAdjust="spacingAndGlyphs">0</text>
<text x="63.8" y="447.8" text-anchor="middle" font-size="7.4" textLength="8.2" lengthAdjust="spacingAndGlyphs">20</text>
<text x="88" y="447.8" text-anchor="middle" font-size="7.4" textLength="8.2" lengthAdjust="spacingAndGlyphs">40</text>
<text x="112.2" y="447.8" text-anchor="middle" font-size="7.4" textLength="8.2" lengthAdjust="spacingAndGlyphs">60</text>
<text x="136.4" y="447.8" text-anchor="middle" font-size="7.4" textLength="8.2" lengthAdjust="spacingAndGlyphs">80</text>
<text x="160.6" y="447.8" text-anchor="middle" font-size="7.4" textLength="12.3" lengthAdjust="spacingAndGlyphs">100</text>
<text x="36.7" y="441.5" text-anchor="end" font-size="7.4" textLength="4.1" lengthAdjust="spacingAndGlyphs">0</text>
<text x="36.7" y="412.32" text-anchor="end" font-size="7.4" textLength="8.2" lengthAdjust="spacingAndGlyphs">20</text>
<text x="36.7" y="383.14" text-anchor="end" font-size="7.4" textLength="8.2" lengthAdjust="spacingAndGlyphs">40</text>
<text x="36.7" y="353.96" text-anchor="end" font-size="7.4" textLength="8.2" lengthAdjust="spacingAndGlyphs">60</text>
<text x="36.7" y="324.78" text-anchor="end" font-size="7.4" textLength="8.2" lengthAdjust="spacingAndGlyphs">80</text>
<line x1="39.6" y1="438.9" x2="160.6" y2="360.11" stroke="#3a3a3a" stroke-width="1"/>
<line x1="39.6" y1="438.9" x2="160.6" y2="384.77" stroke="#1f63e3" stroke-width="1"/>
<line x1="39.6" y1="438.9" x2="160.6" y2="398.63" stroke="#ee1c24" stroke-width="1"/>
<rect x="44.35" y="434.83" width="2.6" height="2.6" fill="#3a3a3a"/>
<rect x="50.4" y="431.76" width="2.6" height="2.6" fill="#3a3a3a"/>
<rect x="56.45" y="427.97" width="2.6" height="2.6" fill="#3a3a3a"/>
<rect x="62.5" y="423.74" width="2.6" height="2.6" fill="#3a3a3a"/>
<rect x="74.6" y="415.13" width="2.6" height="2.6" fill="#3a3a3a"/>
<rect x="86.7" y="405.36" width="2.6" height="2.6" fill="#3a3a3a"/>
<rect x="98.8" y="396.16" width="2.6" height="2.6" fill="#3a3a3a"/>
<rect x="110.9" y="386.83" width="2.6" height="2.6" fill="#3a3a3a"/>
<rect x="135.1" y="374.13" width="2.6" height="2.6" fill="#3a3a3a"/>
<rect x="159.3" y="362.17" width="2.6" height="2.6" fill="#3a3a3a"/>
<circle cx="45.65" cy="438.32" r="1.4" fill="#ee1c24"/>
<circle cx="51.7" cy="436.13" r="1.4" fill="#ee1c24"/>
<circle cx="57.75" cy="434.96" r="1.4" fill="#ee1c24"/>
<circle cx="63.8" cy="434.09" r="1.4" fill="#ee1c24"/>
<circle cx="69.85" cy="432.48" r="1.4" fill="#ee1c24"/>
<circle cx="75.9" cy="430.88" r="1.4" fill="#ee1c24"/>
<circle cx="81.95" cy="428.54" r="1.4" fill="#ee1c24"/>
<circle cx="88" cy="426.35" r="1.4" fill="#ee1c24"/>
<circle cx="100.1" cy="421.68" r="1.4" fill="#ee1c24"/>
<circle cx="112.2" cy="417.16" r="1.4" fill="#ee1c24"/>
<circle cx="124.3" cy="411.91" r="1.4" fill="#ee1c24"/>
<circle cx="136.4" cy="406.66" r="1.4" fill="#ee1c24"/>
<circle cx="148.5" cy="401.84" r="1.4" fill="#ee1c24"/>
<circle cx="160.6" cy="397.17" r="1.4" fill="#ee1c24"/>
<path d="M45.65 435.02L47.21 437.75L44.09 437.75Z" fill="#1f63e3"/>
<path d="M51.7 432.54L53.26 435.27L50.14 435.27Z" fill="#1f63e3"/>
<path d="M57.75 430.79L59.31 433.52L56.19 433.52Z" fill="#1f63e3"/>
<path d="M63.8 427.87L65.36 430.6L62.24 430.6Z" fill="#1f63e3"/>
<path d="M75.9 422.62L77.46 425.35L74.34 425.35Z" fill="#1f63e3"/>
<path d="M88 416.05L89.56 418.78L86.44 418.78Z" fill="#1f63e3"/>
<path d="M100.1 409.49L101.66 412.22L98.54 412.22Z" fill="#1f63e3"/>
<path d="M112.2 402.78L113.76 405.51L110.64 405.51Z" fill="#1f63e3"/>
<path d="M136.4 392.86L137.96 395.59L134.84 395.59Z" fill="#1f63e3"/>
<path d="M160.6 385.71L162.16 388.44L159.04 388.44Z" fill="#1f63e3"/>
<rect x="162.7" y="327.9" width="2.6" height="2.6" fill="#3a3a3a"/>
<text x="171.2" y="331.4" text-anchor="start" font-size="7.3">a</text>
<circle cx="164" cy="338.5" r="1.3" fill="#ee1c24"/>
<text x="171.2" y="340.7" text-anchor="start" font-size="7.3">b</text>
<path d="M164 346.01L165.56 348.74L162.44 348.74Z" fill="#1f63e3"/>
<text x="171.2" y="349.9" text-anchor="start" font-size="7.3">c</text>
<g transform="translate(74.2 458.2)"><text x="0" y="0" font-size="8.6" textLength="45.3" lengthAdjust="spacingAndGlyphs">Reaction time</text><text x="52.3" y="0" text-anchor="middle" font-size="8.6">(</text><text x="53.8" y="0" font-size="8.6" textLength="13.7" lengthAdjust="spacing">min</text><text x="70" y="0" text-anchor="middle" font-size="8.6">)</text></g>
<g transform="translate(23.4 416.4) rotate(-90)"><text x="1.6" y="0" font-size="8.6" textLength="7.3" lengthAdjust="spacing">C</text><text x="9.7" y="0.6" font-size="8" textLength="7.3" lengthAdjust="spacing">C</text><text x="17.8" y="2.4" font-size="6.6" textLength="4.1" lengthAdjust="spacing">6</text><text x="22.7" y="0.6" font-size="8" textLength="5.7" lengthAdjust="spacingAndGlyphs">H</text><text x="29.2" y="2.4" font-size="6.6" textLength="7.2" lengthAdjust="spacing">12</text><text x="40.2" y="0" text-anchor="middle" font-size="7.5">(</text><text x="43" y="0" font-size="6.4" textLength="9.7" lengthAdjust="spacingAndGlyphs">mol</text><text x="54.4" y="0" text-anchor="middle" font-size="6.6">l</text><text x="55.8" y="-2.8" font-size="6.2" textLength="5.7" lengthAdjust="spacing">-1</text><text x="64.9" y="0" text-anchor="middle" font-size="7.5">)</text></g>
<rect x="225.6" y="409.72" width="12.8" height="29.18" fill="#f9c08e" stroke="#666" stroke-width="0.5"/>
<rect x="238.4" y="374.71" width="12.8" height="64.19" fill="#92d492" stroke="#666" stroke-width="0.5"/>
<rect x="251.2" y="386.38" width="12.8" height="52.51" fill="#b8abdb" stroke="#666" stroke-width="0.5"/>
<rect x="273.5" y="420.23" width="12.8" height="18.67" fill="#f9c08e" stroke="#666" stroke-width="0.5"/>
<rect x="286.3" y="403.89" width="12.8" height="35.01" fill="#92d492" stroke="#666" stroke-width="0.5"/>
<rect x="299.1" y="377.05" width="12.8" height="61.85" fill="#b8abdb" stroke="#666" stroke-width="0.5"/>
<rect x="321.4" y="424.9" width="12.8" height="14" fill="#f9c08e" stroke="#666" stroke-width="0.5"/>
<rect x="334.2" y="394.55" width="12.8" height="44.35" fill="#92d492" stroke="#666" stroke-width="0.5"/>
<rect x="347" y="401.56" width="12.8" height="37.34" fill="#b8abdb" stroke="#666" stroke-width="0.5"/>
<path d="M220.7 438.9h-2.6M220.7 415.56h-2.6M220.7 392.22h-2.6M220.7 368.88h-2.6M220.7 345.54h-2.6M220.7 322.2h-2.6M220.7 427.23h-1.6M220.7 403.89h-1.6M220.7 380.55h-1.6M220.7 357.21h-1.6M220.7 333.87h-1.6" stroke="#3c3c3c" stroke-width="1" fill="none"/>
<rect x="220.7" y="322.2" width="143.7" height="116.7" fill="none" stroke="#3c3c3c" stroke-width="1.1"/>
<text x="217.6" y="441.5" text-anchor="end" font-size="7.4" textLength="4.1" lengthAdjust="spacingAndGlyphs">0</text>
<text x="217.6" y="418.16" text-anchor="end" font-size="7.4" textLength="4.1" lengthAdjust="spacingAndGlyphs">2</text>
<text x="217.6" y="394.82" text-anchor="end" font-size="7.4" textLength="4.1" lengthAdjust="spacingAndGlyphs">4</text>
<text x="217.6" y="371.48" text-anchor="end" font-size="7.4" textLength="4.1" lengthAdjust="spacingAndGlyphs">6</text>
<text x="217.6" y="348.14" text-anchor="end" font-size="7.4" textLength="4.1" lengthAdjust="spacingAndGlyphs">8</text>
<text x="217.6" y="324.8" text-anchor="end" font-size="7.4" textLength="8.2" lengthAdjust="spacingAndGlyphs">10</text>
<path d="M244.8 438.9v2.6M292.6 438.9v2.6M340.5 438.9v2.6M268.5 438.9v1.6M316.4 438.9v1.6" stroke="#3c3c3c" stroke-width="1"/>
<g transform="translate(226.6 454)"><text x="0" y="0" font-size="8.4" textLength="42.2" lengthAdjust="spacingAndGlyphs">Ru/TNSTs-2</text></g>
<g transform="translate(274.6 454)"><text x="0" y="0" font-size="8.4" textLength="40.8" lengthAdjust="spacingAndGlyphs">Ru/TNSTs-4</text></g>
<g transform="translate(322.6 454)"><text x="0" y="0" font-size="8.4" textLength="42.2" lengthAdjust="spacingAndGlyphs">Ru/TNSTs-6</text></g>
<rect x="226.4" y="327.3" width="16.9" height="8.4" fill="#f9c08e" stroke="#888" stroke-width="0.5"/>
<rect x="226.4" y="342.2" width="16.9" height="8.4" fill="#92d492" stroke="#888" stroke-width="0.5"/>
<rect x="226.4" y="357.8" width="16.9" height="8.4" fill="#b8abdb" stroke="#888" stroke-width="0.5"/>
<g transform="translate(244.6 334.2)"><text x="0.3" y="0" font-size="8.5" textLength="4.1" lengthAdjust="spacingAndGlyphs">k</text><text x="5" y="1.8" font-size="6.8" textLength="2.6" lengthAdjust="spacingAndGlyphs">1</text><text x="8.6" y="0" text-anchor="middle" font-size="8.5">,</text><text x="10.4" y="0" font-size="8.5" textLength="7.4" lengthAdjust="spacingAndGlyphs">10</text><text x="18.4" y="-3.2" font-size="6.8" textLength="6.4" lengthAdjust="spacing">-2</text><text x="26.7" y="0" font-size="8.5" textLength="11.4" lengthAdjust="spacingAndGlyphs">min</text><text x="38.8" y="-3.2" font-size="6.8" textLength="5.1" lengthAdjust="spacingAndGlyphs">-1</text></g>
<g transform="translate(244.6 349.3)"><text x="0.6" y="0" font-size="8.5" textLength="3.8" lengthAdjust="spacingAndGlyphs">k</text><text x="5" y="1.8" font-size="6.8" textLength="3.2" lengthAdjust="spacingAndGlyphs">2</text><text x="9" y="0" text-anchor="middle" font-size="8.5">,</text><text x="10.8" y="0" font-size="8.5" textLength="7" lengthAdjust="spacingAndGlyphs">10</text><text x="18.4" y="-3.2" font-size="6.8" textLength="5.1" lengthAdjust="spacingAndGlyphs">-1</text><text x="24.8" y="0" font-size="8.5" textLength="9.5" lengthAdjust="spacingAndGlyphs">mol</text><text x="36" y="0" text-anchor="middle" font-size="8.5">l</text><text x="38.1" y="-3.2" font-size="6.8" textLength="7.7" lengthAdjust="spacing">-1</text><text x="48.9" y="0" font-size="8.5" textLength="10.2" lengthAdjust="spacingAndGlyphs">min</text><text x="61" y="-3.2" font-size="6.8" textLength="5.1" lengthAdjust="spacingAndGlyphs">-1</text></g>
<g transform="translate(244.6 364.2)"><text x="0.6" y="0" font-size="8.5" textLength="3.8" lengthAdjust="spacingAndGlyphs">k</text><text x="5" y="1.8" font-size="6.8" textLength="2.6" lengthAdjust="spacingAndGlyphs">1</text><text x="9.5" y="0" text-anchor="middle" font-size="8.5">/</text><text x="11.4" y="0" font-size="8.5" textLength="3.8" lengthAdjust="spacingAndGlyphs">k</text><text x="15.9" y="1.8" font-size="6.8" textLength="3.1" lengthAdjust="spacingAndGlyphs">2</text><text x="20" y="0" text-anchor="middle" font-size="8.5">,</text><text x="20.9" y="0" font-size="8.5" textLength="7.7" lengthAdjust="spacingAndGlyphs">10</text><text x="29.2" y="-3.2" font-size="6.8" textLength="5.1" lengthAdjust="spacingAndGlyphs">-2</text><text x="35.6" y="0" text-anchor="middle" font-size="8.5">l</text><text x="38.1" y="0" font-size="8.5" textLength="10.2" lengthAdjust="spacingAndGlyphs">mol</text><text x="49.6" y="-3.2" font-size="6.8" textLength="4.4" lengthAdjust="spacingAndGlyphs">-1</text></g>
<g transform="translate(204.9 395.9) rotate(-90)"><text x="0" y="0" font-size="8.6" textLength="5.3" lengthAdjust="spacing">k</text><text x="6.4" y="1.6" font-size="6.8" textLength="3.5" lengthAdjust="spacing">1</text><text x="11.7" y="0" text-anchor="middle" font-size="8.6">,</text><text x="14" y="0" font-size="8.6" textLength="4.7" lengthAdjust="spacing">k</text><text x="19.3" y="1.6" font-size="6.8" textLength="4.1" lengthAdjust="spacing">2</text><text x="24.5" y="0" text-anchor="middle" font-size="8.6">,</text><text x="26.3" y="0" font-size="8.6" textLength="4.1" lengthAdjust="spacingAndGlyphs">k</text><text x="31.5" y="1.6" font-size="6.8" textLength="3" lengthAdjust="spacingAndGlyphs">1</text><text x="36.2" y="0" text-anchor="middle" font-size="8.6">/</text><text x="38" y="0" font-size="8.6" textLength="4.6" lengthAdjust="spacing">k</text><text x="43.2" y="1.6" font-size="6.8" textLength="3.5" lengthAdjust="spacing">2</text></g>
<defs><radialGradient id="gr" cx="0.38" cy="0.35" r="0.65"><stop offset="0" stop-color="#ff8a80"/><stop offset="0.35" stop-color="#ee1b14"/><stop offset="1" stop-color="#9a0000"/></radialGradient><radialGradient id="gg" cx="0.38" cy="0.35" r="0.65"><stop offset="0" stop-color="#ffffff"/><stop offset="0.4" stop-color="#cfcfcf"/><stop offset="1" stop-color="#8a8a8a"/></radialGradient><radialGradient id="gc" cx="0.4" cy="0.38" r="0.7"><stop offset="0" stop-color="#d8fff0"/><stop offset="0.45" stop-color="#55f0bc"/><stop offset="1" stop-color="#22a474"/></radialGradient><radialGradient id="gk" cx="0.38" cy="0.35" r="0.65"><stop offset="0" stop-color="#777"/><stop offset="0.4" stop-color="#222"/><stop offset="1" stop-color="#000"/></radialGradient><radialGradient id="gh" cx="0.38" cy="0.35" r="0.65"><stop offset="0" stop-color="#ffffff"/><stop offset="0.5" stop-color="#dddddd"/><stop offset="1" stop-color="#999"/></radialGradient><radialGradient id="gd" cx="0.38" cy="0.35" r="0.65"><stop offset="0" stop-color="#fff"/><stop offset="0.5" stop-color="#ccc"/><stop offset="1" stop-color="#555"/></radialGradient><radialGradient id="gm" cx="0.38" cy="0.35" r="0.65"><stop offset="0" stop-color="#a08890"/><stop offset="0.5" stop-color="#6a5058"/><stop offset="1" stop-color="#3a2a30"/></radialGradient><clipPath id="clu"><path d="M447.6 365.2L472.8 365.2L486.8 388L477.2 407.8L448 407.8L438.2 387Z"/></clipPath></defs>
<path d="M401 445L401 412L421 384L518 386.5L521 413L496 447Z" fill="#b01818"/>
<circle cx="514.18" cy="420.28" r="3.6" fill="url(#gg)"/>
<circle cx="506.48" cy="420.1" r="3.6" fill="url(#gr)"/>
<circle cx="498.78" cy="419.92" r="3.6" fill="url(#gg)"/>
<circle cx="491.08" cy="419.74" r="3.6" fill="url(#gr)"/>
<circle cx="483.38" cy="419.56" r="3.6" fill="url(#gg)"/>
<circle cx="475.68" cy="419.38" r="3.6" fill="url(#gr)"/>
<circle cx="467.98" cy="419.2" r="3.6" fill="url(#gg)"/>
<circle cx="460.28" cy="419.02" r="3.6" fill="url(#gr)"/>
<circle cx="452.58" cy="418.84" r="3.6" fill="url(#gg)"/>
<circle cx="444.88" cy="418.66" r="3.6" fill="url(#gr)"/>
<circle cx="437.18" cy="418.48" r="3.6" fill="url(#gg)"/>
<circle cx="429.48" cy="418.3" r="3.6" fill="url(#gr)"/>
<circle cx="421.78" cy="418.12" r="3.6" fill="url(#gg)"/>
<circle cx="414.08" cy="417.94" r="3.6" fill="url(#gr)"/>
<circle cx="406.38" cy="417.76" r="3.6" fill="url(#gg)"/>
<circle cx="506.38" cy="430.35" r="3.6" fill="url(#gg)"/>
<circle cx="498.68" cy="430.17" r="3.6" fill="url(#gr)"/>
<circle cx="490.98" cy="429.99" r="3.6" fill="url(#gg)"/>
<circle cx="483.28" cy="429.81" r="3.6" fill="url(#gr)"/>
<circle cx="475.58" cy="429.63" r="3.6" fill="url(#gg)"/>
<circle cx="467.88" cy="429.45" r="3.6" fill="url(#gr)"/>
<circle cx="460.18" cy="429.27" r="3.6" fill="url(#gg)"/>
<circle cx="452.48" cy="429.09" r="3.6" fill="url(#gr)"/>
<circle cx="444.78" cy="428.91" r="3.6" fill="url(#gg)"/>
<circle cx="437.08" cy="428.73" r="3.6" fill="url(#gr)"/>
<circle cx="429.38" cy="428.55" r="3.6" fill="url(#gg)"/>
<circle cx="421.68" cy="428.37" r="3.6" fill="url(#gr)"/>
<circle cx="413.98" cy="428.19" r="3.6" fill="url(#gg)"/>
<circle cx="406.28" cy="428.01" r="3.6" fill="url(#gr)"/>
<circle cx="498.58" cy="439.47" r="3.6" fill="url(#gg)"/>
<circle cx="490.88" cy="439.29" r="3.6" fill="url(#gr)"/>
<circle cx="483.18" cy="439.11" r="3.6" fill="url(#gg)"/>
<circle cx="475.48" cy="438.93" r="3.6" fill="url(#gr)"/>
<circle cx="467.78" cy="438.75" r="3.6" fill="url(#gg)"/>
<circle cx="460.08" cy="438.57" r="3.6" fill="url(#gr)"/>
<circle cx="452.38" cy="438.39" r="3.6" fill="url(#gg)"/>
<circle cx="444.68" cy="438.21" r="3.6" fill="url(#gr)"/>
<circle cx="436.98" cy="438.03" r="3.6" fill="url(#gg)"/>
<circle cx="429.28" cy="437.85" r="3.6" fill="url(#gr)"/>
<circle cx="421.58" cy="437.67" r="3.6" fill="url(#gg)"/>
<circle cx="413.88" cy="437.49" r="3.6" fill="url(#gr)"/>
<circle cx="406.18" cy="437.31" r="3.6" fill="url(#gg)"/>
<circle cx="506.95" cy="417.78" r="4.0" fill="url(#gr)"/>
<circle cx="514.65" cy="417.96" r="4.0" fill="url(#gr)"/>
<circle cx="502.8" cy="423.18" r="3.7" fill="url(#gg)"/>
<circle cx="507.05" cy="408.78" r="3.7" fill="url(#gg)"/>
<circle cx="510.5" cy="423.36" r="3.7" fill="url(#gg)"/>
<circle cx="514.75" cy="408.96" r="3.7" fill="url(#gg)"/>
<circle cx="498.65" cy="428.58" r="4.0" fill="url(#gr)"/>
<circle cx="507.15" cy="399.18" r="4.0" fill="url(#gr)"/>
<circle cx="506.35" cy="428.76" r="4.0" fill="url(#gr)"/>
<circle cx="510.6" cy="414.36" r="4.0" fill="url(#gr)"/>
<circle cx="514.85" cy="399.36" r="4.0" fill="url(#gr)"/>
<circle cx="518.3" cy="414.54" r="4.0" fill="url(#gr)"/>
<circle cx="422.55" cy="386.3" r="4.0" fill="url(#gr)"/>
<circle cx="430.25" cy="386.48" r="4.0" fill="url(#gr)"/>
<circle cx="437.95" cy="386.66" r="4.0" fill="url(#gr)"/>
<circle cx="445.65" cy="386.84" r="4.0" fill="url(#gr)"/>
<circle cx="453.35" cy="387.02" r="4.0" fill="url(#gr)"/>
<circle cx="461.05" cy="387.2" r="4.0" fill="url(#gr)"/>
<circle cx="468.75" cy="387.38" r="4.0" fill="url(#gr)"/>
<circle cx="476.45" cy="387.56" r="4.0" fill="url(#gr)"/>
<circle cx="484.15" cy="387.74" r="4.0" fill="url(#gr)"/>
<circle cx="491.85" cy="387.92" r="4.0" fill="url(#gr)"/>
<circle cx="499.55" cy="388.1" r="4.0" fill="url(#gr)"/>
<circle cx="435.35" cy="386.15" r="2.7" fill="url(#gg)"/>
<circle cx="494.5" cy="433.98" r="3.7" fill="url(#gg)"/>
<circle cx="507.25" cy="388.28" r="4.0" fill="url(#gr)"/>
<circle cx="502.2" cy="434.16" r="3.7" fill="url(#gg)"/>
<circle cx="506.45" cy="419.76" r="3.7" fill="url(#gg)"/>
<circle cx="510.7" cy="404.76" r="3.7" fill="url(#gg)"/>
<circle cx="514.95" cy="388.46" r="4.0" fill="url(#gr)"/>
<circle cx="450.75" cy="386.51" r="2.7" fill="url(#gg)"/>
<circle cx="514.15" cy="419.94" r="3.7" fill="url(#gg)"/>
<circle cx="518.4" cy="404.94" r="3.7" fill="url(#gg)"/>
<circle cx="466.15" cy="386.87" r="2.7" fill="url(#gg)"/>
<circle cx="481.55" cy="387.23" r="2.7" fill="url(#gg)"/>
<circle cx="496.94" cy="387.59" r="2.7" fill="url(#gg)"/>
<circle cx="418.4" cy="391.7" r="4.0" fill="url(#gr)"/>
<circle cx="426.1" cy="391.88" r="4.0" fill="url(#gr)"/>
<circle cx="512.34" cy="387.95" r="2.7" fill="url(#gg)"/>
<circle cx="433.8" cy="392.06" r="4.0" fill="url(#gr)"/>
<circle cx="441.5" cy="392.24" r="4.0" fill="url(#gr)"/>
<circle cx="449.2" cy="392.42" r="4.0" fill="url(#gr)"/>
<circle cx="456.9" cy="392.6" r="4.0" fill="url(#gr)"/>
<circle cx="464.6" cy="392.78" r="4.0" fill="url(#gr)"/>
<circle cx="472.3" cy="392.96" r="4.0" fill="url(#gr)"/>
<circle cx="480" cy="393.14" r="4.0" fill="url(#gr)"/>
<circle cx="487.7" cy="393.32" r="4.0" fill="url(#gr)"/>
<circle cx="495.4" cy="393.5" r="4.0" fill="url(#gr)"/>
<circle cx="431.2" cy="391.55" r="2.7" fill="url(#gg)"/>
<circle cx="490.35" cy="439.38" r="4.0" fill="url(#gr)"/>
<circle cx="503.1" cy="393.68" r="4.0" fill="url(#gr)"/>
<circle cx="498.05" cy="439.56" r="4.0" fill="url(#gr)"/>
<circle cx="502.3" cy="425.16" r="4.0" fill="url(#gr)"/>
<circle cx="506.55" cy="410.16" r="4.0" fill="url(#gr)"/>
<circle cx="510.8" cy="393.86" r="4.0" fill="url(#gr)"/>
<circle cx="446.6" cy="391.91" r="2.7" fill="url(#gg)"/>
<circle cx="510" cy="425.34" r="4.0" fill="url(#gr)"/>
<circle cx="514.25" cy="410.34" r="4.0" fill="url(#gr)"/>
<circle cx="518.5" cy="394.04" r="4.0" fill="url(#gr)"/>
<circle cx="462" cy="392.27" r="2.7" fill="url(#gg)"/>
<circle cx="477.4" cy="392.63" r="2.7" fill="url(#gg)"/>
<circle cx="492.8" cy="392.99" r="2.7" fill="url(#gg)"/>
<circle cx="401.5" cy="442.8" r="4.0" fill="url(#gr)"/>
<circle cx="414.25" cy="397.1" r="4.0" fill="url(#gr)"/>
<circle cx="409.2" cy="442.98" r="3.7" fill="url(#gg)"/>
<circle cx="421.95" cy="397.28" r="4.0" fill="url(#gr)"/>
<circle cx="508.2" cy="393.35" r="2.7" fill="url(#gg)"/>
<circle cx="416.9" cy="443.16" r="4.0" fill="url(#gr)"/>
<circle cx="429.65" cy="397.46" r="4.0" fill="url(#gr)"/>
<circle cx="424.6" cy="443.34" r="3.7" fill="url(#gg)"/>
<circle cx="437.35" cy="397.64" r="4.0" fill="url(#gr)"/>
<circle cx="432.3" cy="443.52" r="4.0" fill="url(#gr)"/>
<circle cx="445.05" cy="397.82" r="4.0" fill="url(#gr)"/>
<circle cx="440" cy="443.7" r="3.7" fill="url(#gg)"/>
<circle cx="452.75" cy="398" r="4.0" fill="url(#gr)"/>
<circle cx="447.7" cy="443.88" r="4.0" fill="url(#gr)"/>
<circle cx="460.45" cy="398.18" r="4.0" fill="url(#gr)"/>
<circle cx="455.4" cy="444.06" r="3.7" fill="url(#gg)"/>
<circle cx="468.15" cy="398.36" r="4.0" fill="url(#gr)"/>
<circle cx="463.1" cy="444.24" r="4.0" fill="url(#gr)"/>
<circle cx="475.85" cy="398.54" r="4.0" fill="url(#gr)"/>
<circle cx="470.8" cy="444.42" r="3.7" fill="url(#gg)"/>
<circle cx="483.55" cy="398.72" r="4.0" fill="url(#gr)"/>
<circle cx="478.5" cy="444.6" r="4.0" fill="url(#gr)"/>
<circle cx="491.25" cy="398.9" r="4.0" fill="url(#gr)"/>
<circle cx="427.05" cy="396.95" r="2.7" fill="url(#gg)"/>
<circle cx="486.2" cy="444.78" r="3.7" fill="url(#gg)"/>
<circle cx="498.95" cy="399.08" r="4.0" fill="url(#gr)"/>
<circle cx="493.9" cy="444.96" r="4.0" fill="url(#gr)"/>
<circle cx="498.15" cy="430.56" r="3.7" fill="url(#gg)"/>
<circle cx="506.65" cy="399.26" r="4.0" fill="url(#gr)"/>
<circle cx="442.44" cy="397.31" r="2.7" fill="url(#gg)"/>
<circle cx="505.85" cy="430.74" r="3.7" fill="url(#gg)"/>
<circle cx="510.1" cy="415.74" r="3.7" fill="url(#gg)"/>
<circle cx="514.35" cy="399.44" r="4.0" fill="url(#gr)"/>
<circle cx="517.8" cy="415.92" r="3.7" fill="url(#gg)"/>
<circle cx="457.85" cy="397.67" r="2.7" fill="url(#gg)"/>
<circle cx="473.25" cy="398.03" r="2.7" fill="url(#gg)"/>
<circle cx="488.64" cy="398.39" r="2.7" fill="url(#gg)"/>
<circle cx="401.6" cy="433.8" r="3.7" fill="url(#gg)"/>
<circle cx="410.1" cy="402.5" r="4.0" fill="url(#gr)"/>
<circle cx="409.3" cy="433.98" r="4.0" fill="url(#gr)"/>
<circle cx="417.8" cy="402.68" r="4.0" fill="url(#gr)"/>
<circle cx="504.05" cy="398.75" r="2.7" fill="url(#gg)"/>
<circle cx="417" cy="434.16" r="3.7" fill="url(#gg)"/>
<circle cx="425.5" cy="402.86" r="4.0" fill="url(#gr)"/>
<circle cx="424.7" cy="434.34" r="4.0" fill="url(#gr)"/>
<circle cx="433.2" cy="403.04" r="4.0" fill="url(#gr)"/>
<circle cx="432.4" cy="434.52" r="3.7" fill="url(#gg)"/>
<circle cx="440.9" cy="403.22" r="4.0" fill="url(#gr)"/>
<circle cx="440.1" cy="434.7" r="4.0" fill="url(#gr)"/>
<circle cx="448.6" cy="403.4" r="4.0" fill="url(#gr)"/>
<circle cx="447.8" cy="434.88" r="3.7" fill="url(#gg)"/>
<circle cx="456.3" cy="403.58" r="4.0" fill="url(#gr)"/>
<circle cx="455.5" cy="435.06" r="4.0" fill="url(#gr)"/>
<circle cx="464" cy="403.76" r="4.0" fill="url(#gr)"/>
<circle cx="463.2" cy="435.24" r="3.7" fill="url(#gg)"/>
<circle cx="471.7" cy="403.94" r="4.0" fill="url(#gr)"/>
<circle cx="470.9" cy="435.42" r="4.0" fill="url(#gr)"/>
<circle cx="479.4" cy="404.12" r="4.0" fill="url(#gr)"/>
<circle cx="478.6" cy="435.6" r="3.7" fill="url(#gg)"/>
<circle cx="487.1" cy="404.3" r="4.0" fill="url(#gr)"/>
<circle cx="422.9" cy="402.35" r="2.7" fill="url(#gg)"/>
<circle cx="486.3" cy="435.78" r="4.0" fill="url(#gr)"/>
<circle cx="494.8" cy="404.48" r="4.0" fill="url(#gr)"/>
<circle cx="494" cy="435.96" r="3.7" fill="url(#gg)"/>
<circle cx="502.5" cy="404.66" r="4.0" fill="url(#gr)"/>
<circle cx="438.3" cy="402.71" r="2.7" fill="url(#gg)"/>
<circle cx="501.7" cy="436.14" r="4.0" fill="url(#gr)"/>
<circle cx="505.95" cy="421.14" r="4.0" fill="url(#gr)"/>
<circle cx="510.2" cy="404.84" r="4.0" fill="url(#gr)"/>
<circle cx="513.65" cy="421.32" r="4.0" fill="url(#gr)"/>
<circle cx="517.9" cy="405.02" r="4.0" fill="url(#gr)"/>
<circle cx="453.7" cy="403.07" r="2.7" fill="url(#gg)"/>
<circle cx="469.1" cy="403.43" r="2.7" fill="url(#gg)"/>
<circle cx="484.5" cy="403.79" r="2.7" fill="url(#gg)"/>
<circle cx="401.7" cy="424.2" r="4.0" fill="url(#gr)"/>
<circle cx="405.95" cy="407.9" r="4.0" fill="url(#gr)"/>
<circle cx="409.4" cy="424.38" r="3.7" fill="url(#gg)"/>
<circle cx="413.65" cy="408.08" r="4.0" fill="url(#gr)"/>
<circle cx="499.9" cy="404.15" r="2.7" fill="url(#gg)"/>
<circle cx="417.1" cy="424.56" r="4.0" fill="url(#gr)"/>
<circle cx="421.35" cy="408.26" r="4.0" fill="url(#gr)"/>
<circle cx="424.8" cy="424.74" r="3.7" fill="url(#gg)"/>
<circle cx="429.05" cy="408.44" r="4.0" fill="url(#gr)"/>
<circle cx="515.29" cy="404.51" r="2.7" fill="url(#gg)"/>
<circle cx="432.5" cy="424.92" r="4.0" fill="url(#gr)"/>
<circle cx="436.75" cy="408.62" r="4.0" fill="url(#gr)"/>
<circle cx="440.2" cy="425.1" r="3.7" fill="url(#gg)"/>
<circle cx="444.45" cy="408.8" r="4.0" fill="url(#gr)"/>
<circle cx="447.9" cy="425.28" r="4.0" fill="url(#gr)"/>
<circle cx="452.15" cy="408.98" r="4.0" fill="url(#gr)"/>
<circle cx="455.6" cy="425.46" r="3.7" fill="url(#gg)"/>
<circle cx="459.85" cy="409.16" r="4.0" fill="url(#gr)"/>
<circle cx="463.3" cy="425.64" r="4.0" fill="url(#gr)"/>
<circle cx="467.55" cy="409.34" r="4.0" fill="url(#gr)"/>
<circle cx="471" cy="425.82" r="3.7" fill="url(#gg)"/>
<circle cx="475.25" cy="409.52" r="4.0" fill="url(#gr)"/>
<circle cx="478.7" cy="426" r="4.0" fill="url(#gr)"/>
<circle cx="482.95" cy="409.7" r="4.0" fill="url(#gr)"/>
<circle cx="418.75" cy="407.75" r="2.7" fill="url(#gg)"/>
<circle cx="486.4" cy="426.18" r="3.7" fill="url(#gg)"/>
<circle cx="490.65" cy="409.88" r="4.0" fill="url(#gr)"/>
<circle cx="494.1" cy="426.36" r="4.0" fill="url(#gr)"/>
<circle cx="498.35" cy="410.06" r="4.0" fill="url(#gr)"/>
<circle cx="434.14" cy="408.11" r="2.7" fill="url(#gg)"/>
<circle cx="501.8" cy="426.54" r="3.7" fill="url(#gg)"/>
<circle cx="506.05" cy="410.24" r="4.0" fill="url(#gr)"/>
<circle cx="509.5" cy="426.72" r="4.0" fill="url(#gr)"/>
<circle cx="513.75" cy="410.42" r="4.0" fill="url(#gr)"/>
<circle cx="449.55" cy="408.47" r="2.7" fill="url(#gg)"/>
<circle cx="464.94" cy="408.83" r="2.7" fill="url(#gg)"/>
<circle cx="480.34" cy="409.19" r="2.7" fill="url(#gg)"/>
<circle cx="401.8" cy="413.3" r="4.0" fill="url(#gr)"/>
<circle cx="409.5" cy="413.48" r="4.0" fill="url(#gr)"/>
<circle cx="495.75" cy="409.55" r="2.7" fill="url(#gg)"/>
<circle cx="417.2" cy="413.66" r="4.0" fill="url(#gr)"/>
<circle cx="424.9" cy="413.84" r="4.0" fill="url(#gr)"/>
<circle cx="511.14" cy="409.91" r="2.7" fill="url(#gg)"/>
<circle cx="432.6" cy="414.02" r="4.0" fill="url(#gr)"/>
<circle cx="440.3" cy="414.2" r="4.0" fill="url(#gr)"/>
<circle cx="448" cy="414.38" r="4.0" fill="url(#gr)"/>
<circle cx="455.7" cy="414.56" r="4.0" fill="url(#gr)"/>
<circle cx="463.4" cy="414.74" r="4.0" fill="url(#gr)"/>
<circle cx="471.1" cy="414.92" r="4.0" fill="url(#gr)"/>
<circle cx="478.8" cy="415.1" r="4.0" fill="url(#gr)"/>
<circle cx="414.6" cy="413.15" r="2.7" fill="url(#gg)"/>
<circle cx="486.5" cy="415.28" r="4.0" fill="url(#gr)"/>
<circle cx="494.2" cy="415.46" r="4.0" fill="url(#gr)"/>
<circle cx="430" cy="413.51" r="2.7" fill="url(#gg)"/>
<circle cx="501.9" cy="415.64" r="4.0" fill="url(#gr)"/>
<circle cx="509.6" cy="415.82" r="4.0" fill="url(#gr)"/>
<circle cx="445.4" cy="413.87" r="2.7" fill="url(#gg)"/>
<circle cx="517.3" cy="416" r="4.0" fill="url(#gr)"/>
<circle cx="460.8" cy="414.23" r="2.7" fill="url(#gg)"/>
<circle cx="476.19" cy="414.59" r="2.7" fill="url(#gg)"/>
<circle cx="491.6" cy="414.95" r="2.7" fill="url(#gg)"/>
<circle cx="507" cy="415.31" r="2.7" fill="url(#gg)"/>
<path d="M447.6 365.2L472.8 365.2L486.8 388L477.2 407.8L448 407.8L438.2 387Z" fill="#1a8a60"/>
<g clip-path="url(#clu)">
<circle cx="445.2" cy="366.6" r="2.0" fill="url(#gc)"/>
<circle cx="445.2" cy="369.8" r="2.0" fill="url(#gc)"/>
<circle cx="445.2" cy="373" r="2.0" fill="url(#gc)"/>
<circle cx="445.2" cy="376.2" r="2.0" fill="url(#gc)"/>
<circle cx="445.2" cy="379.4" r="2.0" fill="url(#gm)"/>
<circle cx="445.2" cy="382.6" r="2.0" fill="url(#gc)"/>
<circle cx="449.3" cy="366.6" r="2.0" fill="url(#gc)"/>
<circle cx="449.3" cy="369.8" r="2.0" fill="url(#gc)"/>
<circle cx="449.3" cy="373" r="2.0" fill="url(#gc)"/>
<circle cx="449.3" cy="376.2" r="2.0" fill="url(#gc)"/>
<circle cx="449.3" cy="379.4" r="2.0" fill="url(#gc)"/>
<circle cx="449.3" cy="382.6" r="2.0" fill="url(#gc)"/>
<circle cx="453.4" cy="366.6" r="2.0" fill="url(#gc)"/>
<circle cx="453.4" cy="369.8" r="2.0" fill="url(#gm)"/>
<circle cx="453.4" cy="373" r="2.0" fill="url(#gc)"/>
<circle cx="453.4" cy="376.2" r="2.0" fill="url(#gc)"/>
<circle cx="453.4" cy="379.4" r="2.0" fill="url(#gc)"/>
<circle cx="453.4" cy="382.6" r="2.0" fill="url(#gc)"/>
<circle cx="457.5" cy="366.6" r="2.0" fill="url(#gc)"/>
<circle cx="457.5" cy="369.8" r="2.0" fill="url(#gc)"/>
<circle cx="457.5" cy="373" r="2.0" fill="url(#gc)"/>
<circle cx="457.5" cy="376.2" r="2.0" fill="url(#gc)"/>
<circle cx="457.5" cy="379.4" r="2.0" fill="url(#gc)"/>
<circle cx="457.5" cy="382.6" r="2.0" fill="url(#gc)"/>
<circle cx="461.6" cy="366.6" r="2.0" fill="url(#gm)"/>
<circle cx="461.6" cy="369.8" r="2.0" fill="url(#gc)"/>
<circle cx="461.6" cy="373" r="2.0" fill="url(#gc)"/>
<circle cx="461.6" cy="376.2" r="2.0" fill="url(#gc)"/>
<circle cx="461.6" cy="379.4" r="2.0" fill="url(#gc)"/>
<circle cx="461.6" cy="382.6" r="2.0" fill="url(#gc)"/>
<circle cx="465.7" cy="366.6" r="2.0" fill="url(#gc)"/>
<circle cx="465.7" cy="369.8" r="2.0" fill="url(#gc)"/>
<circle cx="465.7" cy="373" r="2.0" fill="url(#gc)"/>
<circle cx="465.7" cy="376.2" r="2.0" fill="url(#gc)"/>
<circle cx="465.7" cy="379.4" r="2.0" fill="url(#gc)"/>
<circle cx="465.7" cy="382.6" r="2.0" fill="url(#gc)"/>
<circle cx="469.8" cy="366.6" r="2.0" fill="url(#gc)"/>
<circle cx="469.8" cy="369.8" r="2.0" fill="url(#gc)"/>
<circle cx="469.8" cy="373" r="2.0" fill="url(#gc)"/>
<circle cx="469.8" cy="376.2" r="2.0" fill="url(#gm)"/>
<circle cx="469.8" cy="379.4" r="2.0" fill="url(#gc)"/>
<circle cx="469.8" cy="382.6" r="2.0" fill="url(#gc)"/>
<circle cx="473.9" cy="366.6" r="2.0" fill="url(#gc)"/>
<circle cx="473.9" cy="369.8" r="2.0" fill="url(#gc)"/>
<circle cx="473.9" cy="373" r="2.0" fill="url(#gc)"/>
<circle cx="473.9" cy="376.2" r="2.0" fill="url(#gc)"/>
<circle cx="473.9" cy="379.4" r="2.0" fill="url(#gc)"/>
<circle cx="473.9" cy="382.6" r="2.0" fill="url(#gc)"/>
<circle cx="478" cy="366.6" r="2.0" fill="url(#gc)"/>
<circle cx="478" cy="369.8" r="2.0" fill="url(#gc)"/>
<circle cx="478" cy="373" r="2.0" fill="url(#gc)"/>
<circle cx="478" cy="376.2" r="2.0" fill="url(#gc)"/>
<circle cx="478" cy="379.4" r="2.0" fill="url(#gc)"/>
<circle cx="478" cy="382.6" r="2.0" fill="url(#gc)"/>
<circle cx="436.3" cy="384.5" r="2.05" fill="url(#gc)"/>
<circle cx="440.4" cy="384.5" r="2.05" fill="url(#gc)"/>
<circle cx="444.5" cy="384.5" r="2.05" fill="url(#gc)"/>
<circle cx="448.6" cy="384.5" r="2.05" fill="url(#gc)"/>
<circle cx="452.7" cy="384.5" r="2.05" fill="url(#gc)"/>
<circle cx="456.8" cy="384.5" r="2.05" fill="url(#gc)"/>
<circle cx="460.9" cy="384.5" r="2.05" fill="url(#gc)"/>
<circle cx="465" cy="384.5" r="2.05" fill="url(#gc)"/>
<circle cx="469.1" cy="384.5" r="2.05" fill="url(#gc)"/>
<circle cx="473.2" cy="384.5" r="2.05" fill="url(#gc)"/>
<circle cx="477.3" cy="384.5" r="2.05" fill="url(#gc)"/>
<circle cx="481.4" cy="384.5" r="2.05" fill="url(#gc)"/>
<circle cx="485.5" cy="384.5" r="2.05" fill="url(#gc)"/>
<circle cx="436.3" cy="388.25" r="2.05" fill="url(#gc)"/>
<circle cx="440.4" cy="388.25" r="2.05" fill="url(#gc)"/>
<circle cx="444.5" cy="388.25" r="2.05" fill="url(#gc)"/>
<circle cx="448.6" cy="388.25" r="2.05" fill="url(#gc)"/>
<circle cx="452.7" cy="388.25" r="2.05" fill="url(#gc)"/>
<circle cx="456.8" cy="388.25" r="2.05" fill="url(#gc)"/>
<circle cx="460.9" cy="388.25" r="2.05" fill="url(#gc)"/>
<circle cx="465" cy="388.25" r="2.05" fill="url(#gc)"/>
<circle cx="469.1" cy="388.25" r="2.05" fill="url(#gc)"/>
<circle cx="473.2" cy="388.25" r="2.05" fill="url(#gc)"/>
<circle cx="477.3" cy="388.25" r="2.05" fill="url(#gc)"/>
<circle cx="481.4" cy="388.25" r="2.05" fill="url(#gc)"/>
<circle cx="485.5" cy="388.25" r="2.05" fill="url(#gc)"/>
<circle cx="436.3" cy="392" r="2.05" fill="url(#gc)"/>
<circle cx="440.4" cy="392" r="2.05" fill="url(#gc)"/>
<circle cx="444.5" cy="392" r="2.05" fill="url(#gc)"/>
<circle cx="448.6" cy="392" r="2.05" fill="url(#gm)"/>
<circle cx="452.7" cy="392" r="2.05" fill="url(#gc)"/>
<circle cx="456.8" cy="392" r="2.05" fill="url(#gc)"/>
<circle cx="460.9" cy="392" r="2.05" fill="url(#gc)"/>
<circle cx="465" cy="392" r="2.05" fill="url(#gc)"/>
<circle cx="469.1" cy="392" r="2.05" fill="url(#gc)"/>
<circle cx="473.2" cy="392" r="2.05" fill="url(#gc)"/>
<circle cx="477.3" cy="392" r="2.05" fill="url(#gc)"/>
<circle cx="481.4" cy="392" r="2.05" fill="url(#gc)"/>
<circle cx="485.5" cy="392" r="2.05" fill="url(#gc)"/>
<circle cx="436.3" cy="395.75" r="2.05" fill="url(#gc)"/>
<circle cx="440.4" cy="395.75" r="2.05" fill="url(#gc)"/>
<circle cx="444.5" cy="395.75" r="2.05" fill="url(#gc)"/>
<circle cx="448.6" cy="395.75" r="2.05" fill="url(#gc)"/>
<circle cx="452.7" cy="395.75" r="2.05" fill="url(#gc)"/>
<circle cx="456.8" cy="395.75" r="2.05" fill="url(#gc)"/>
<circle cx="460.9" cy="395.75" r="2.05" fill="url(#gc)"/>
<circle cx="465" cy="395.75" r="2.05" fill="url(#gm)"/>
<circle cx="469.1" cy="395.75" r="2.05" fill="url(#gc)"/>
<circle cx="473.2" cy="395.75" r="2.05" fill="url(#gc)"/>
<circle cx="477.3" cy="395.75" r="2.05" fill="url(#gc)"/>
<circle cx="481.4" cy="395.75" r="2.05" fill="url(#gc)"/>
<circle cx="485.5" cy="395.75" r="2.05" fill="url(#gc)"/>
<circle cx="436.3" cy="399.5" r="2.05" fill="url(#gc)"/>
<circle cx="440.4" cy="399.5" r="2.05" fill="url(#gc)"/>
<circle cx="444.5" cy="399.5" r="2.05" fill="url(#gc)"/>
<circle cx="448.6" cy="399.5" r="2.05" fill="url(#gc)"/>
<circle cx="452.7" cy="399.5" r="2.05" fill="url(#gc)"/>
<circle cx="456.8" cy="399.5" r="2.05" fill="url(#gc)"/>
<circle cx="460.9" cy="399.5" r="2.05" fill="url(#gc)"/>
<circle cx="465" cy="399.5" r="2.05" fill="url(#gc)"/>
<circle cx="469.1" cy="399.5" r="2.05" fill="url(#gc)"/>
<circle cx="473.2" cy="399.5" r="2.05" fill="url(#gc)"/>
<circle cx="477.3" cy="399.5" r="2.05" fill="url(#gc)"/>
<circle cx="481.4" cy="399.5" r="2.05" fill="url(#gc)"/>
<circle cx="485.5" cy="399.5" r="2.05" fill="url(#gc)"/>
<circle cx="436.3" cy="403.25" r="2.05" fill="url(#gc)"/>
<circle cx="440.4" cy="403.25" r="2.05" fill="url(#gc)"/>
<circle cx="444.5" cy="403.25" r="2.05" fill="url(#gc)"/>
<circle cx="448.6" cy="403.25" r="2.05" fill="url(#gc)"/>
<circle cx="452.7" cy="403.25" r="2.05" fill="url(#gc)"/>
<circle cx="456.8" cy="403.25" r="2.05" fill="url(#gm)"/>
<circle cx="460.9" cy="403.25" r="2.05" fill="url(#gc)"/>
<circle cx="465" cy="403.25" r="2.05" fill="url(#gc)"/>
<circle cx="469.1" cy="403.25" r="2.05" fill="url(#gc)"/>
<circle cx="473.2" cy="403.25" r="2.05" fill="url(#gc)"/>
<circle cx="477.3" cy="403.25" r="2.05" fill="url(#gc)"/>
<circle cx="481.4" cy="403.25" r="2.05" fill="url(#gc)"/>
<circle cx="485.5" cy="403.25" r="2.05" fill="url(#gc)"/>
<circle cx="436.3" cy="407" r="2.05" fill="url(#gc)"/>
<circle cx="440.4" cy="407" r="2.05" fill="url(#gc)"/>
<circle cx="444.5" cy="407" r="2.05" fill="url(#gm)"/>
<circle cx="448.6" cy="407" r="2.05" fill="url(#gc)"/>
<circle cx="452.7" cy="407" r="2.05" fill="url(#gc)"/>
<circle cx="456.8" cy="407" r="2.05" fill="url(#gc)"/>
<circle cx="460.9" cy="407" r="2.05" fill="url(#gc)"/>
<circle cx="465" cy="407" r="2.05" fill="url(#gc)"/>
<circle cx="469.1" cy="407" r="2.05" fill="url(#gm)"/>
<circle cx="473.2" cy="407" r="2.05" fill="url(#gc)"/>
<circle cx="477.3" cy="407" r="2.05" fill="url(#gc)"/>
<circle cx="481.4" cy="407" r="2.05" fill="url(#gc)"/>
<circle cx="485.5" cy="407" r="2.05" fill="url(#gc)"/>
</g>
<path d="M438.2 387L448 407.8L477.2 407.8L486.8 388" fill="none" stroke="#0d5a3c" stroke-width="0.8" opacity="0.6"/>
<line x1="387.3" y1="355.7" x2="384.6" y2="350.3" stroke="#666" stroke-width="0.9"/>
<line x1="395.4" y1="356.2" x2="398.7" y2="351.9" stroke="#666" stroke-width="0.9"/>
<line x1="398.7" y1="363.3" x2="404.6" y2="364.9" stroke="#666" stroke-width="0.9"/>
<line x1="393.3" y1="369.8" x2="395.4" y2="375.7" stroke="#666" stroke-width="0.9"/>
<line x1="385.7" y1="368.7" x2="381.4" y2="373.5" stroke="#666" stroke-width="0.9"/>
<line x1="382.4" y1="361.6" x2="376" y2="361.1" stroke="#666" stroke-width="0.9"/>
<line x1="387.3" y1="355.7" x2="395.4" y2="356.2" stroke="#000" stroke-width="1.8"/>
<line x1="395.4" y1="356.2" x2="398.7" y2="363.3" stroke="#000" stroke-width="1.8"/>
<line x1="398.7" y1="363.3" x2="393.3" y2="369.8" stroke="#000" stroke-width="1.8"/>
<line x1="393.3" y1="369.8" x2="385.7" y2="368.7" stroke="#000" stroke-width="1.8"/>
<line x1="385.7" y1="368.7" x2="382.4" y2="361.6" stroke="#000" stroke-width="1.8"/>
<line x1="382.4" y1="361.6" x2="387.3" y2="355.7" stroke="#000" stroke-width="1.8"/>
<circle cx="384.6" cy="350.3" r="1.35" fill="url(#gh)"/>
<circle cx="398.7" cy="351.9" r="1.35" fill="url(#gh)"/>
<circle cx="404.6" cy="364.9" r="1.35" fill="url(#gh)"/>
<circle cx="395.4" cy="375.7" r="1.35" fill="url(#gh)"/>
<circle cx="381.4" cy="373.5" r="1.35" fill="url(#gh)"/>
<circle cx="376" cy="361.1" r="1.35" fill="url(#gh)"/>
<circle cx="387.3" cy="355.7" r="2.6" fill="url(#gk)"/>
<circle cx="395.4" cy="356.2" r="2.6" fill="url(#gk)"/>
<circle cx="398.7" cy="363.3" r="2.6" fill="url(#gk)"/>
<circle cx="393.3" cy="369.8" r="2.6" fill="url(#gk)"/>
<circle cx="385.7" cy="368.7" r="2.6" fill="url(#gk)"/>
<circle cx="382.4" cy="361.6" r="2.6" fill="url(#gk)"/>
<line x1="455.7" y1="342.3" x2="453" y2="339" stroke="#666" stroke-width="0.9"/>
<line x1="462.7" y1="341.2" x2="464.9" y2="335.8" stroke="#666" stroke-width="0.9"/>
<line x1="468.1" y1="347.2" x2="473" y2="346.6" stroke="#666" stroke-width="0.9"/>
<line x1="465.4" y1="354.8" x2="468.7" y2="358" stroke="#666" stroke-width="0.9"/>
<line x1="457.3" y1="356.4" x2="455.7" y2="361.3" stroke="#666" stroke-width="0.9"/>
<line x1="452.4" y1="350.4" x2="447" y2="350.4" stroke="#666" stroke-width="0.9"/>
<line x1="455.7" y1="342.3" x2="462.7" y2="341.2" stroke="#c04040" stroke-width="1.0"/>
<line x1="462.7" y1="341.2" x2="468.1" y2="347.2" stroke="#d03030" stroke-width="1.0"/>
<line x1="468.1" y1="347.2" x2="465.4" y2="354.8" stroke="#333" stroke-width="1.0"/>
<line x1="465.4" y1="354.8" x2="457.3" y2="356.4" stroke="#111" stroke-width="1.0"/>
<line x1="457.3" y1="356.4" x2="452.4" y2="350.4" stroke="#111" stroke-width="1.0"/>
<line x1="452.4" y1="350.4" x2="455.7" y2="342.3" stroke="#111" stroke-width="1.0"/>
<circle cx="453" cy="339" r="1.35" fill="url(#gh)"/>
<circle cx="464.9" cy="335.8" r="1.35" fill="url(#gh)"/>
<circle cx="473" cy="346.6" r="1.35" fill="url(#gh)"/>
<circle cx="468.7" cy="358" r="1.35" fill="url(#gh)"/>
<circle cx="455.7" cy="361.3" r="1.35" fill="url(#gh)"/>
<circle cx="447" cy="350.4" r="1.35" fill="url(#gh)"/>
<circle cx="455.7" cy="342.3" r="2.3" fill="url(#gk)"/>
<circle cx="462.7" cy="341.2" r="2.3" fill="url(#gr)"/>
<circle cx="468.1" cy="347.2" r="2.3" fill="url(#gr)"/>
<circle cx="465.4" cy="354.8" r="2.3" fill="url(#gk)"/>
<circle cx="457.3" cy="356.4" r="2.3" fill="url(#gk)"/>
<circle cx="452.4" cy="350.4" r="2.3" fill="url(#gk)"/>
<line x1="529.3" y1="362.7" x2="528.4" y2="357.3" stroke="#666" stroke-width="0.9"/>
<line x1="522.5" y1="367.5" x2="517.7" y2="365.6" stroke="#666" stroke-width="0.9"/>
<line x1="536.2" y1="366.1" x2="540.5" y2="362.7" stroke="#666" stroke-width="0.9"/>
<line x1="537.6" y1="373.9" x2="542" y2="375.8" stroke="#666" stroke-width="0.9"/>
<line x1="530.8" y1="378.7" x2="530.8" y2="384.1" stroke="#666" stroke-width="0.9"/>
<line x1="523.5" y1="375.8" x2="519.1" y2="378.7" stroke="#666" stroke-width="0.9"/>
<line x1="529.3" y1="362.7" x2="536.2" y2="366.1" stroke="#333" stroke-width="1.0"/>
<line x1="536.2" y1="366.1" x2="537.6" y2="373.9" stroke="#333" stroke-width="1.0"/>
<line x1="537.6" y1="373.9" x2="530.8" y2="378.7" stroke="#333" stroke-width="1.0"/>
<line x1="530.8" y1="378.7" x2="523.5" y2="375.8" stroke="#333" stroke-width="1.0"/>
<line x1="523.5" y1="375.8" x2="522.5" y2="367.5" stroke="#333" stroke-width="1.0"/>
<line x1="522.5" y1="367.5" x2="529.3" y2="362.7" stroke="#333" stroke-width="1.0"/>
<circle cx="528.4" cy="357.3" r="1.35" fill="url(#gh)"/>
<circle cx="517.7" cy="365.6" r="1.35" fill="url(#gh)"/>
<circle cx="540.5" cy="362.7" r="1.35" fill="url(#gh)"/>
<circle cx="542" cy="375.8" r="1.35" fill="url(#gh)"/>
<circle cx="530.8" cy="384.1" r="1.35" fill="url(#gh)"/>
<circle cx="519.1" cy="378.7" r="1.35" fill="url(#gh)"/>
<circle cx="529.3" cy="362.7" r="2.2" fill="url(#gd)"/>
<circle cx="536.2" cy="366.1" r="2.2" fill="url(#gk)"/>
<circle cx="537.6" cy="373.9" r="2.2" fill="url(#gd)"/>
<circle cx="530.8" cy="378.7" r="2.2" fill="url(#gk)"/>
<circle cx="523.5" cy="375.8" r="2.2" fill="url(#gd)"/>
<circle cx="522.5" cy="367.5" r="2.2" fill="url(#gk)"/>
<line x1="411.7" y1="353.4" x2="431.94" y2="348.56" stroke="#111" stroke-width="1.2"/>
<path d="M436.8 347.4L432.49 350.9L431.38 346.23Z" fill="#111"/>
<line x1="478.8" y1="345.9" x2="503.22" y2="360.62" stroke="#111" stroke-width="1.2"/>
<path d="M507.5 363.2L501.98 362.67L504.46 358.56Z" fill="#111"/>
<g transform="translate(391 346.6) rotate(-12.2)" font-weight="bold" style="stroke-width:0.1px"><text x="0" y="0" font-size="8" textLength="5.2" lengthAdjust="spacingAndGlyphs" font-weight="normal">&#916;</text><text x="5" y="1.6" font-size="5.5" textLength="1.8" lengthAdjust="spacingAndGlyphs" font-weight="normal">r</text><text x="7.6" y="0" font-size="8.5" textLength="6" lengthAdjust="spacingAndGlyphs" font-weight="normal">G</text><text x="15.8" y="-5.2" text-anchor="middle" font-size="6">&#952;</text><text x="13.8" y="2" font-size="5.5" textLength="4.8" lengthAdjust="spacingAndGlyphs" font-weight="normal">m</text><text x="19.6" y="0" font-size="7" textLength="4" lengthAdjust="spacingAndGlyphs" font-weight="bold">=</text><text x="24.6" y="0" font-size="8.4" textLength="34.4" lengthAdjust="spacingAndGlyphs" font-weight="bold">-23kJ&#183;mol</text><text x="59.2" y="-3.6" font-size="5" textLength="3.4" lengthAdjust="spacingAndGlyphs" font-weight="bold">-1</text></g>
<g transform="translate(469.2 332.6) rotate(27.5)" font-weight="bold" style="stroke-width:0.1px"><text x="0" y="0" font-size="8" textLength="5.2" lengthAdjust="spacingAndGlyphs" font-weight="normal">&#916;</text><text x="5" y="1.6" font-size="5.5" textLength="1.8" lengthAdjust="spacingAndGlyphs" font-weight="normal">r</text><text x="7.6" y="0" font-size="8.5" textLength="6" lengthAdjust="spacingAndGlyphs" font-weight="normal">G</text><text x="15.8" y="-5.2" text-anchor="middle" font-size="6">&#952;</text><text x="13.8" y="2" font-size="5.5" textLength="4.8" lengthAdjust="spacingAndGlyphs" font-weight="normal">m</text><text x="19.6" y="0" font-size="7" textLength="4" lengthAdjust="spacingAndGlyphs" font-weight="bold">=</text><text x="24.6" y="0" font-size="8.4" textLength="32.4" lengthAdjust="spacingAndGlyphs" font-weight="bold">-75kJ&#183;mol</text><text x="57.2" y="-3.6" font-size="5" textLength="3.2" lengthAdjust="spacingAndGlyphs" font-weight="bold">-1</text></g>
<text x="420.3" y="362" font-size="8.5">k<tspan font-size="6" dy="1.8">1</tspan></text>
<text x="0" y="0" font-size="8.5" transform="translate(484.2 361.5) rotate(30)">k<tspan font-size="6" dy="1.8">2</tspan></text>
<text x="434.2" y="375.5" font-size="8" font-weight="bold" style="fill:#111;stroke:#111;stroke-width:0.15px">&#948;<tspan font-size="4.5" dy="-2.5">+</tspan></text>
<text x="479.8" y="375.5" font-size="8" font-weight="bold" style="fill:#111;stroke:#111;stroke-width:0.15px">&#948;<tspan font-size="4.5" dy="-2.5">+</tspan></text>
<text x="433.5" y="389.5" font-size="8" font-weight="bold" style="fill:#111;stroke:#111;stroke-width:0.15px">&#948;</text>
<text x="433.5" y="400.5" font-size="8" font-weight="bold" style="fill:#111;stroke:#111;stroke-width:0.15px">&#948;</text>
<text x="479.5" y="389.5" font-size="8" font-weight="bold" style="fill:#111;stroke:#111;stroke-width:0.15px">&#948;</text>
<text x="479.5" y="400.5" font-size="8" font-weight="bold" style="fill:#111;stroke:#111;stroke-width:0.15px">&#948;</text>
<text x="427.5" y="412" font-size="8" font-weight="bold" style="fill:#111;stroke:#111;stroke-width:0.15px">Ti</text>
<text x="481" y="413.5" font-size="8" font-weight="bold" style="fill:#111;stroke:#111;stroke-width:0.15px">Ti</text>
</svg></body></html>
